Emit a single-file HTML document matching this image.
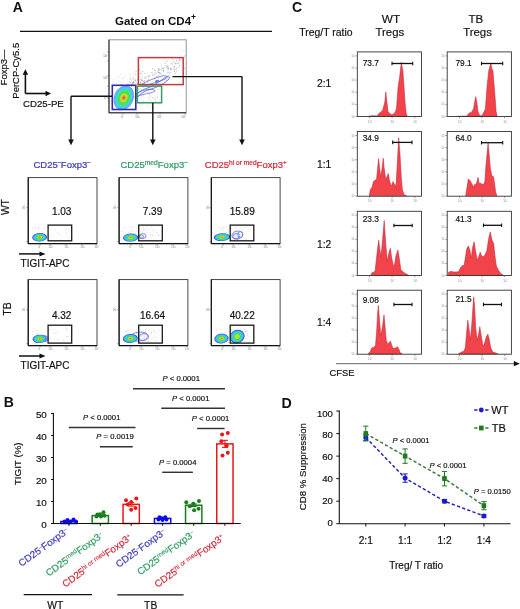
<!DOCTYPE html>
<html><head><meta charset="utf-8"><style>
html,body{margin:0;padding:0;background:#fff;}
svg{display:block;}
text{font-family:"Liberation Sans", sans-serif;}
svg{will-change:transform;}
</style></head><body>
<svg width="520" height="609" viewBox="0 0 520 609" font-family="Liberation Sans, sans-serif">
<rect width="520" height="609" fill="#fff"/>
<text x="12.8" y="12.3" font-size="14" fill="#111" text-anchor="start" font-weight="bold" >A</text>
<text x="115" y="24.6" font-size="11.5" font-weight="bold" fill="#111">Gated on CD4<tspan font-size="8.5" dy="-4.5">+</tspan></text>
<line x1="20" y1="31.3" x2="272" y2="31.3" stroke="#111" stroke-width="1.3" />
<text transform="translate(6.8,85.4) rotate(-90)" font-size="9.5" fill="#111" stroke="#111" stroke-width="0.18">Foxp3—</text>
<text transform="translate(19.2,98.7) rotate(-90)" font-size="9.5" fill="#111" stroke="#111" stroke-width="0.18">PerCP-Cy5.5</text>
<line x1="25.4" y1="93.5" x2="25.4" y2="74" stroke="#111" stroke-width="1.6" />
<path d="M22.65,74.8 L28.15,74.8 L25.4,69.3 Z" fill="#111"/>
<line x1="25.4" y1="93.5" x2="46" y2="93.5" stroke="#111" stroke-width="1.6" />
<path d="M45.5,90.75 L45.5,96.25 L51,93.5 Z" fill="#111"/>
<text x="22.9" y="107.1" font-size="9.7" fill="#111" text-anchor="start" font-weight="normal" stroke="#111" stroke-width="0.18" >CD25-PE</text>
<circle cx="147.9" cy="82.2" r="0.5" fill="#a09098" opacity="0.85"/>
<circle cx="129.7" cy="81.4" r="0.5" fill="#a09098" opacity="0.85"/>
<circle cx="130.5" cy="82.7" r="0.5" fill="#a09098" opacity="0.85"/>
<circle cx="152.8" cy="75.3" r="0.5" fill="#a09098" opacity="0.85"/>
<circle cx="151.9" cy="72.6" r="0.5" fill="#a09098" opacity="0.85"/>
<circle cx="136.0" cy="71.2" r="0.5" fill="#a09098" opacity="0.85"/>
<circle cx="154.3" cy="78.7" r="0.5" fill="#a09098" opacity="0.85"/>
<circle cx="131.9" cy="80.1" r="0.5" fill="#a09098" opacity="0.85"/>
<circle cx="137.5" cy="83.4" r="0.5" fill="#a09098" opacity="0.85"/>
<circle cx="174.3" cy="71.4" r="0.5" fill="#a09098" opacity="0.85"/>
<circle cx="160.9" cy="74.0" r="0.5" fill="#a09098" opacity="0.85"/>
<circle cx="133.0" cy="83.7" r="0.5" fill="#a09098" opacity="0.85"/>
<circle cx="163.5" cy="70.7" r="0.5" fill="#a09098" opacity="0.85"/>
<circle cx="158.2" cy="72.2" r="0.5" fill="#a09098" opacity="0.85"/>
<circle cx="171.1" cy="63.3" r="0.5" fill="#a09098" opacity="0.85"/>
<circle cx="154.6" cy="69.9" r="0.5" fill="#a09098" opacity="0.85"/>
<circle cx="166.5" cy="80.2" r="0.5" fill="#a09098" opacity="0.85"/>
<circle cx="130.8" cy="85.1" r="0.5" fill="#a09098" opacity="0.85"/>
<circle cx="135.7" cy="80.7" r="0.5" fill="#a09098" opacity="0.85"/>
<circle cx="165.1" cy="63.5" r="0.5" fill="#a09098" opacity="0.85"/>
<circle cx="174.6" cy="71.1" r="0.5" fill="#a09098" opacity="0.85"/>
<circle cx="158.3" cy="68.5" r="0.5" fill="#a09098" opacity="0.85"/>
<circle cx="176.9" cy="63.8" r="0.5" fill="#a09098" opacity="0.85"/>
<circle cx="168.1" cy="72.0" r="0.5" fill="#a09098" opacity="0.85"/>
<circle cx="168.2" cy="69.4" r="0.5" fill="#a09098" opacity="0.85"/>
<circle cx="140.9" cy="82.1" r="0.5" fill="#a09098" opacity="0.85"/>
<circle cx="127.8" cy="84.2" r="0.5" fill="#a09098" opacity="0.85"/>
<circle cx="138.4" cy="84.2" r="0.5" fill="#a09098" opacity="0.85"/>
<circle cx="135.2" cy="85.6" r="0.5" fill="#a09098" opacity="0.85"/>
<circle cx="178.3" cy="67.2" r="0.5" fill="#a09098" opacity="0.85"/>
<circle cx="161.7" cy="66.3" r="0.5" fill="#a09098" opacity="0.85"/>
<circle cx="175.1" cy="69.6" r="0.5" fill="#a09098" opacity="0.85"/>
<circle cx="152.4" cy="68.6" r="0.5" fill="#a09098" opacity="0.85"/>
<circle cx="137.1" cy="83.6" r="0.5" fill="#a09098" opacity="0.85"/>
<circle cx="137.5" cy="79.4" r="0.5" fill="#a09098" opacity="0.85"/>
<circle cx="145.1" cy="78.3" r="0.5" fill="#a09098" opacity="0.85"/>
<circle cx="142.7" cy="71.4" r="0.5" fill="#a09098" opacity="0.85"/>
<circle cx="162.5" cy="68.2" r="0.5" fill="#a09098" opacity="0.85"/>
<circle cx="170.2" cy="72.3" r="0.5" fill="#a09098" opacity="0.85"/>
<circle cx="174.0" cy="61.1" r="0.5" fill="#a09098" opacity="0.85"/>
<circle cx="148.6" cy="76.6" r="0.5" fill="#a09098" opacity="0.85"/>
<circle cx="163.7" cy="70.7" r="0.5" fill="#a09098" opacity="0.85"/>
<circle cx="140.7" cy="82.9" r="0.5" fill="#a09098" opacity="0.85"/>
<circle cx="132.3" cy="82.8" r="0.5" fill="#a09098" opacity="0.85"/>
<circle cx="133.2" cy="82.5" r="0.5" fill="#a09098" opacity="0.85"/>
<circle cx="175.0" cy="63.1" r="0.5" fill="#a09098" opacity="0.85"/>
<circle cx="140.5" cy="82.0" r="0.5" fill="#a09098" opacity="0.85"/>
<circle cx="139.3" cy="69.8" r="0.5" fill="#a09098" opacity="0.85"/>
<circle cx="152.6" cy="73.9" r="0.5" fill="#a09098" opacity="0.85"/>
<circle cx="132.5" cy="84.7" r="0.5" fill="#a09098" opacity="0.85"/>
<circle cx="173.9" cy="66.6" r="0.5" fill="#a09098" opacity="0.85"/>
<circle cx="178.9" cy="62.6" r="0.5" fill="#a09098" opacity="0.85"/>
<circle cx="160.9" cy="73.0" r="0.5" fill="#a09098" opacity="0.85"/>
<circle cx="184.3" cy="57.2" r="0.5" fill="#a09098" opacity="0.85"/>
<circle cx="141.3" cy="80.3" r="0.5" fill="#a09098" opacity="0.85"/>
<circle cx="166.2" cy="65.4" r="0.5" fill="#a09098" opacity="0.85"/>
<circle cx="146.9" cy="84.9" r="0.5" fill="#a09098" opacity="0.85"/>
<circle cx="184.9" cy="55.8" r="0.5" fill="#a09098" opacity="0.85"/>
<circle cx="172.9" cy="62.8" r="0.5" fill="#a09098" opacity="0.85"/>
<circle cx="156.1" cy="73.5" r="0.5" fill="#a09098" opacity="0.85"/>
<circle cx="129.2" cy="86.8" r="0.5" fill="#a09098" opacity="0.85"/>
<circle cx="168.7" cy="67.4" r="0.5" fill="#a09098" opacity="0.85"/>
<circle cx="148.4" cy="79.2" r="0.5" fill="#a09098" opacity="0.85"/>
<circle cx="139.8" cy="85.7" r="0.5" fill="#a09098" opacity="0.85"/>
<circle cx="179.1" cy="59.9" r="0.5" fill="#a09098" opacity="0.85"/>
<circle cx="164.2" cy="67.8" r="0.5" fill="#a09098" opacity="0.85"/>
<circle cx="168.0" cy="65.2" r="0.5" fill="#a09098" opacity="0.85"/>
<circle cx="167.7" cy="67.9" r="0.5" fill="#a09098" opacity="0.85"/>
<circle cx="169.2" cy="73.7" r="0.5" fill="#a09098" opacity="0.85"/>
<circle cx="179.4" cy="65.4" r="0.5" fill="#a09098" opacity="0.85"/>
<circle cx="179.8" cy="60.5" r="0.5" fill="#a09098" opacity="0.85"/>
<circle cx="138.1" cy="89.1" r="0.5" fill="#a09098" opacity="0.85"/>
<circle cx="175.2" cy="73.0" r="0.5" fill="#a09098" opacity="0.85"/>
<circle cx="180.6" cy="58.9" r="0.5" fill="#a09098" opacity="0.85"/>
<circle cx="158.5" cy="72.5" r="0.5" fill="#a09098" opacity="0.85"/>
<circle cx="179.6" cy="58.2" r="0.5" fill="#a09098" opacity="0.85"/>
<circle cx="174.7" cy="67.1" r="0.5" fill="#a09098" opacity="0.85"/>
<circle cx="173.9" cy="69.2" r="0.5" fill="#a09098" opacity="0.85"/>
<circle cx="144.3" cy="83.5" r="0.5" fill="#a09098" opacity="0.85"/>
<circle cx="141.1" cy="79.5" r="0.5" fill="#a09098" opacity="0.85"/>
<circle cx="176.4" cy="67.9" r="0.5" fill="#a09098" opacity="0.85"/>
<circle cx="162.2" cy="68.5" r="0.5" fill="#a09098" opacity="0.85"/>
<circle cx="175.4" cy="63.8" r="0.5" fill="#a09098" opacity="0.85"/>
<circle cx="159.5" cy="73.1" r="0.5" fill="#a09098" opacity="0.85"/>
<circle cx="142.5" cy="80.2" r="0.5" fill="#a09098" opacity="0.85"/>
<circle cx="133.5" cy="81.4" r="0.5" fill="#a09098" opacity="0.85"/>
<circle cx="157.2" cy="76.6" r="0.5" fill="#a09098" opacity="0.85"/>
<circle cx="158.8" cy="69.7" r="0.5" fill="#a09098" opacity="0.85"/>
<circle cx="158.8" cy="75.3" r="0.5" fill="#a09098" opacity="0.85"/>
<circle cx="167.3" cy="66.7" r="0.5" fill="#a09098" opacity="0.85"/>
<circle cx="172.1" cy="64.7" r="0.5" fill="#a09098" opacity="0.85"/>
<circle cx="158.7" cy="70.3" r="0.5" fill="#a09098" opacity="0.85"/>
<circle cx="163.2" cy="70.4" r="0.5" fill="#a09098" opacity="0.85"/>
<circle cx="157.9" cy="71.0" r="0.5" fill="#a09098" opacity="0.85"/>
<circle cx="178.0" cy="63.5" r="0.5" fill="#a09098" opacity="0.85"/>
<circle cx="163.3" cy="68.7" r="0.5" fill="#a09098" opacity="0.85"/>
<circle cx="137.5" cy="84.3" r="0.5" fill="#a09098" opacity="0.85"/>
<circle cx="132.0" cy="84.2" r="0.5" fill="#a09098" opacity="0.85"/>
<circle cx="165.9" cy="59.9" r="0.5" fill="#a09098" opacity="0.85"/>
<circle cx="135.7" cy="74.1" r="0.5" fill="#a09098" opacity="0.85"/>
<circle cx="140.7" cy="72.9" r="0.5" fill="#a09098" opacity="0.85"/>
<circle cx="142.5" cy="77.8" r="0.5" fill="#a09098" opacity="0.85"/>
<circle cx="159.5" cy="72.7" r="0.5" fill="#a09098" opacity="0.85"/>
<circle cx="134.1" cy="82.7" r="0.5" fill="#a09098" opacity="0.85"/>
<circle cx="147.4" cy="80.3" r="0.5" fill="#a09098" opacity="0.85"/>
<circle cx="170.9" cy="68.8" r="0.5" fill="#a09098" opacity="0.85"/>
<circle cx="154.5" cy="74.8" r="0.5" fill="#a09098" opacity="0.85"/>
<circle cx="161.4" cy="70.1" r="0.5" fill="#a09098" opacity="0.85"/>
<circle cx="183.8" cy="50.7" r="0.5" fill="#a09098" opacity="0.85"/>
<circle cx="133.7" cy="83.0" r="0.5" fill="#a09098" opacity="0.85"/>
<circle cx="170.7" cy="69.2" r="0.5" fill="#a09098" opacity="0.85"/>
<circle cx="155.1" cy="70.3" r="0.5" fill="#a09098" opacity="0.85"/>
<circle cx="145.5" cy="86.5" r="0.5" fill="#a09098" opacity="0.85"/>
<circle cx="159.1" cy="69.6" r="0.5" fill="#a09098" opacity="0.85"/>
<circle cx="130.2" cy="78.4" r="0.5" fill="#a09098" opacity="0.85"/>
<circle cx="135.3" cy="80.0" r="0.5" fill="#a09098" opacity="0.85"/>
<circle cx="176.3" cy="70.8" r="0.5" fill="#a09098" opacity="0.85"/>
<circle cx="133.5" cy="78.8" r="0.5" fill="#a09098" opacity="0.85"/>
<circle cx="141.3" cy="73.2" r="0.5" fill="#a09098" opacity="0.85"/>
<circle cx="144.8" cy="82.1" r="0.5" fill="#a09098" opacity="0.85"/>
<circle cx="142.3" cy="80.4" r="0.5" fill="#a09098" opacity="0.85"/>
<circle cx="131.4" cy="86.6" r="0.5" fill="#a09098" opacity="0.85"/>
<circle cx="144.9" cy="73.6" r="0.5" fill="#a09098" opacity="0.85"/>
<circle cx="156.5" cy="76.7" r="0.5" fill="#a09098" opacity="0.85"/>
<circle cx="129.0" cy="84.4" r="0.5" fill="#a09098" opacity="0.85"/>
<circle cx="166.8" cy="67.0" r="0.5" fill="#a09098" opacity="0.85"/>
<circle cx="155.2" cy="72.7" r="0.5" fill="#a09098" opacity="0.85"/>
<circle cx="170.4" cy="68.2" r="0.5" fill="#a09098" opacity="0.85"/>
<circle cx="171.6" cy="69.0" r="0.5" fill="#a09098" opacity="0.85"/>
<circle cx="168.1" cy="68.4" r="0.5" fill="#a09098" opacity="0.85"/>
<circle cx="172.8" cy="59.5" r="0.5" fill="#a09098" opacity="0.85"/>
<circle cx="149.8" cy="76.3" r="0.5" fill="#a09098" opacity="0.85"/>
<circle cx="138.8" cy="84.3" r="0.5" fill="#a09098" opacity="0.85"/>
<circle cx="142.6" cy="80.0" r="0.5" fill="#a09098" opacity="0.85"/>
<circle cx="176.8" cy="60.6" r="0.5" fill="#a09098" opacity="0.85"/>
<circle cx="143.6" cy="81.5" r="0.5" fill="#a09098" opacity="0.85"/>
<circle cx="154.8" cy="78.0" r="0.5" fill="#a09098" opacity="0.85"/>
<circle cx="149.0" cy="75.3" r="0.5" fill="#a09098" opacity="0.85"/>
<circle cx="158.3" cy="83.6" r="0.5" fill="#a09098" opacity="0.85"/>
<circle cx="145.0" cy="77.4" r="0.5" fill="#a09098" opacity="0.85"/>
<circle cx="146.1" cy="76.4" r="0.5" fill="#a09098" opacity="0.85"/>
<circle cx="138.8" cy="79.6" r="0.5" fill="#a09098" opacity="0.85"/>
<circle cx="144.7" cy="80.6" r="0.5" fill="#a09098" opacity="0.85"/>
<circle cx="132.4" cy="83.6" r="0.5" fill="#a09098" opacity="0.85"/>
<circle cx="138.2" cy="76.0" r="0.5" fill="#a09098" opacity="0.85"/>
<circle cx="167.1" cy="61.5" r="0.5" fill="#a09098" opacity="0.85"/>
<circle cx="174.6" cy="67.2" r="0.5" fill="#a09098" opacity="0.85"/>
<circle cx="184.5" cy="68.2" r="0.5" fill="#a09098" opacity="0.85"/>
<circle cx="167.9" cy="72.2" r="0.5" fill="#a09098" opacity="0.85"/>
<circle cx="157.7" cy="96.4" r="0.45" fill="#a0a0b0" opacity="0.8"/>
<circle cx="154.4" cy="99.2" r="0.45" fill="#a0a0b0" opacity="0.8"/>
<circle cx="141.9" cy="94.9" r="0.45" fill="#a0a0b0" opacity="0.8"/>
<circle cx="149.6" cy="99.5" r="0.45" fill="#a0a0b0" opacity="0.8"/>
<circle cx="155.9" cy="99.4" r="0.45" fill="#a0a0b0" opacity="0.8"/>
<circle cx="151.3" cy="100.4" r="0.45" fill="#a0a0b0" opacity="0.8"/>
<circle cx="153.3" cy="97.4" r="0.45" fill="#a0a0b0" opacity="0.8"/>
<circle cx="143.8" cy="87.5" r="0.45" fill="#a0a0b0" opacity="0.8"/>
<circle cx="141.8" cy="92.4" r="0.45" fill="#a0a0b0" opacity="0.8"/>
<circle cx="141.2" cy="99.5" r="0.45" fill="#a0a0b0" opacity="0.8"/>
<circle cx="150.7" cy="96.4" r="0.45" fill="#a0a0b0" opacity="0.8"/>
<circle cx="152.2" cy="97.2" r="0.45" fill="#a0a0b0" opacity="0.8"/>
<circle cx="149.3" cy="87.0" r="0.45" fill="#a0a0b0" opacity="0.8"/>
<circle cx="155.8" cy="98.2" r="0.45" fill="#a0a0b0" opacity="0.8"/>
<circle cx="149.6" cy="95.0" r="0.45" fill="#a0a0b0" opacity="0.8"/>
<circle cx="152.8" cy="88.0" r="0.45" fill="#a0a0b0" opacity="0.8"/>
<circle cx="154.5" cy="90.8" r="0.45" fill="#a0a0b0" opacity="0.8"/>
<circle cx="140.6" cy="91.0" r="0.45" fill="#a0a0b0" opacity="0.8"/>
<circle cx="154.3" cy="90.1" r="0.45" fill="#a0a0b0" opacity="0.8"/>
<circle cx="154.5" cy="101.6" r="0.45" fill="#a0a0b0" opacity="0.8"/>
<circle cx="149.4" cy="92.7" r="0.45" fill="#a0a0b0" opacity="0.8"/>
<circle cx="149.1" cy="97.3" r="0.45" fill="#a0a0b0" opacity="0.8"/>
<circle cx="155.1" cy="96.3" r="0.45" fill="#a0a0b0" opacity="0.8"/>
<circle cx="152.5" cy="88.2" r="0.45" fill="#a0a0b0" opacity="0.8"/>
<circle cx="142.1" cy="90.8" r="0.45" fill="#a0a0b0" opacity="0.8"/>
<circle cx="154.6" cy="91.6" r="0.45" fill="#a0a0b0" opacity="0.8"/>
<circle cx="150.9" cy="87.2" r="0.45" fill="#a0a0b0" opacity="0.8"/>
<circle cx="140.3" cy="91.0" r="0.45" fill="#a0a0b0" opacity="0.8"/>
<circle cx="153.1" cy="97.4" r="0.45" fill="#a0a0b0" opacity="0.8"/>
<circle cx="153.2" cy="91.4" r="0.45" fill="#a0a0b0" opacity="0.8"/>
<circle cx="149.8" cy="94.0" r="0.45" fill="#a0a0b0" opacity="0.8"/>
<circle cx="148.8" cy="88.8" r="0.45" fill="#a0a0b0" opacity="0.8"/>
<circle cx="157.8" cy="90.0" r="0.45" fill="#a0a0b0" opacity="0.8"/>
<circle cx="159.5" cy="101.0" r="0.45" fill="#a0a0b0" opacity="0.8"/>
<circle cx="139.4" cy="93.9" r="0.45" fill="#a0a0b0" opacity="0.8"/>
<circle cx="156.2" cy="101.5" r="0.45" fill="#a0a0b0" opacity="0.8"/>
<circle cx="148.4" cy="91.0" r="0.45" fill="#a0a0b0" opacity="0.8"/>
<circle cx="143.4" cy="101.2" r="0.45" fill="#a0a0b0" opacity="0.8"/>
<circle cx="143.4" cy="95.7" r="0.45" fill="#a0a0b0" opacity="0.8"/>
<circle cx="142.0" cy="94.9" r="0.45" fill="#a0a0b0" opacity="0.8"/>
<circle cx="159.0" cy="89.0" r="0.45" fill="#a0a0b0" opacity="0.8"/>
<circle cx="156.2" cy="94.6" r="0.45" fill="#a0a0b0" opacity="0.8"/>
<circle cx="157.6" cy="97.6" r="0.45" fill="#a0a0b0" opacity="0.8"/>
<circle cx="143.9" cy="100.5" r="0.45" fill="#a0a0b0" opacity="0.8"/>
<circle cx="149.2" cy="87.4" r="0.45" fill="#a0a0b0" opacity="0.8"/>
<circle cx="114.1" cy="79.4" r="0.45" fill="#c0a8b0" opacity="0.8"/>
<circle cx="123.9" cy="77.3" r="0.45" fill="#c0a8b0" opacity="0.8"/>
<circle cx="117.1" cy="77.8" r="0.45" fill="#c0a8b0" opacity="0.8"/>
<circle cx="121.0" cy="83.2" r="0.45" fill="#c0a8b0" opacity="0.8"/>
<circle cx="114.0" cy="82.3" r="0.45" fill="#c0a8b0" opacity="0.8"/>
<circle cx="132.5" cy="75.3" r="0.45" fill="#c0a8b0" opacity="0.8"/>
<circle cx="134.4" cy="81.8" r="0.45" fill="#c0a8b0" opacity="0.8"/>
<circle cx="133.8" cy="77.2" r="0.45" fill="#c0a8b0" opacity="0.8"/>
<circle cx="122.2" cy="78.3" r="0.45" fill="#c0a8b0" opacity="0.8"/>
<circle cx="136.0" cy="80.5" r="0.45" fill="#c0a8b0" opacity="0.8"/>
<circle cx="121.9" cy="78.7" r="0.45" fill="#c0a8b0" opacity="0.8"/>
<circle cx="120.1" cy="74.5" r="0.45" fill="#c0a8b0" opacity="0.8"/>
<circle cx="116.2" cy="83.2" r="0.45" fill="#c0a8b0" opacity="0.8"/>
<circle cx="120.3" cy="84.3" r="0.45" fill="#c0a8b0" opacity="0.8"/>
<circle cx="119.5" cy="76.9" r="0.45" fill="#c0a8b0" opacity="0.8"/>
<circle cx="125.2" cy="76.1" r="0.45" fill="#c0a8b0" opacity="0.8"/>
<circle cx="122.2" cy="84.5" r="0.45" fill="#c0a8b0" opacity="0.8"/>
<circle cx="133.5" cy="82.9" r="0.45" fill="#c0a8b0" opacity="0.8"/>
<circle cx="127.9" cy="84.0" r="0.45" fill="#c0a8b0" opacity="0.8"/>
<circle cx="134.7" cy="80.0" r="0.45" fill="#c0a8b0" opacity="0.8"/>
<circle cx="129.8" cy="74.5" r="0.45" fill="#c0a8b0" opacity="0.8"/>
<circle cx="130.1" cy="79.0" r="0.45" fill="#c0a8b0" opacity="0.8"/>
<circle cx="154.1" cy="108.2" r="0.45" fill="#b0b0c0" opacity="0.8"/>
<circle cx="142.9" cy="103.4" r="0.45" fill="#b0b0c0" opacity="0.8"/>
<circle cx="158.2" cy="104.0" r="0.45" fill="#b0b0c0" opacity="0.8"/>
<circle cx="147.3" cy="105.7" r="0.45" fill="#b0b0c0" opacity="0.8"/>
<circle cx="143.1" cy="108.9" r="0.45" fill="#b0b0c0" opacity="0.8"/>
<circle cx="159.4" cy="105.1" r="0.45" fill="#b0b0c0" opacity="0.8"/>
<circle cx="151.7" cy="105.4" r="0.45" fill="#b0b0c0" opacity="0.8"/>
<circle cx="149.4" cy="106.2" r="0.45" fill="#b0b0c0" opacity="0.8"/>
<circle cx="140.0" cy="104.3" r="0.45" fill="#b0b0c0" opacity="0.8"/>
<circle cx="141.0" cy="110.2" r="0.45" fill="#b0b0c0" opacity="0.8"/>
<circle cx="147.9" cy="104.8" r="0.45" fill="#b0b0c0" opacity="0.8"/>
<circle cx="157.8" cy="111.0" r="0.45" fill="#b0b0c0" opacity="0.8"/>
<path d="M135,97 C138,92 142,90 150,87 C156,84 162,80 166,77 C169,75 171,77 168,80 C163,85 155,88 148,90 C143,92 139,95 136,99 Z" fill="#e4ecfc" fill-opacity="0.5" stroke="#4a5ad0" stroke-width="0.75"/>
<path d="M141,84.5 C147,81 155,78 162,76 C167,75 169,77 165,79 C159,82 150,84 143,86 Z" fill="none" stroke="#4a5ad0" stroke-width="0.7"/>
<ellipse cx="157" cy="81" rx="2.2" ry="1" fill="#6a7ae0" transform="rotate(-20,157,81)"/>
<path d="M136,94 C140,91 146,89 152,89.5 C157,90 155,92 150,93 C145,94 140,95 136,97 Z" fill="none" stroke="#4a5ad0" stroke-width="0.65"/>
<ellipse cx="123.8" cy="97.8" rx="12.60" ry="9.80" fill="#8890ec" transform="rotate(-66,123.8,97.8)"/>
<ellipse cx="123.8" cy="97.8" rx="11.72" ry="9.11" fill="#58b8f4" transform="rotate(-66,123.8,97.8)"/>
<ellipse cx="123.8" cy="97.8" rx="10.33" ry="8.04" fill="#40d2ec" transform="rotate(-66,123.8,97.8)"/>
<ellipse cx="123.8" cy="97.8" rx="8.95" ry="6.96" fill="#3ee0b4" transform="rotate(-66,123.8,97.8)"/>
<ellipse cx="123.8" cy="97.8" rx="7.56" ry="5.88" fill="#50e048" transform="rotate(-66,123.8,97.8)"/>
<ellipse cx="123.8" cy="97.8" rx="4.54" ry="3.53" fill="#bce438" transform="rotate(-66,123.8,97.8)"/>
<ellipse cx="123.8" cy="97.8" rx="2.90" ry="2.25" fill="#f0a830" transform="rotate(-66,123.8,97.8)"/>
<ellipse cx="123.8" cy="97.8" rx="1.51" ry="1.18" fill="#e85a28" transform="rotate(-66,123.8,97.8)"/>
<rect x="109" y="39.8" width="77.19999999999999" height="73.0" stroke="#888" stroke-width="0.9" fill="none" />
<line x1="109" y1="39.8" x2="109" y2="112.8" stroke="#222" stroke-width="1.0" />
<line x1="109" y1="112.8" x2="186.2" y2="112.8" stroke="#222" stroke-width="1.0" />
<line x1="107.2" y1="52" x2="109" y2="52" stroke="#555" stroke-width="0.6" />
<line x1="107.2" y1="61" x2="109" y2="61" stroke="#555" stroke-width="0.6" />
<line x1="107.2" y1="76" x2="109" y2="76" stroke="#555" stroke-width="0.6" />
<line x1="107.2" y1="86" x2="109" y2="86" stroke="#555" stroke-width="0.6" />
<line x1="107.2" y1="98" x2="109" y2="98" stroke="#555" stroke-width="0.6" />
<line x1="123" y1="112.8" x2="123" y2="114.6" stroke="#555" stroke-width="0.6" />
<line x1="137" y1="112.8" x2="137" y2="114.6" stroke="#555" stroke-width="0.6" />
<line x1="160" y1="112.8" x2="160" y2="114.6" stroke="#555" stroke-width="0.6" />
<line x1="185" y1="112.8" x2="185" y2="114.6" stroke="#555" stroke-width="0.6" />
<text x="121" y="117.5" font-size="3.6" fill="#777" text-anchor="start" font-weight="normal" >0</text>
<text x="135" y="117.5" font-size="3.6" fill="#777" text-anchor="start" font-weight="normal" >10³</text>
<text x="157" y="117.5" font-size="3.6" fill="#777" text-anchor="start" font-weight="normal" >10⁴</text>
<text x="181" y="117.5" font-size="3.6" fill="#777" text-anchor="start" font-weight="normal" >10⁵</text>
<text x="103" y="57" font-size="3.6" fill="#777" text-anchor="start" font-weight="normal" >10⁵</text>
<text x="103" y="79" font-size="3.6" fill="#777" text-anchor="start" font-weight="normal" >10⁴</text>
<text x="104" y="99" font-size="3.6" fill="#777" text-anchor="start" font-weight="normal" >0</text>
<rect x="138.4" y="57.6" width="44.8" height="27.0" stroke="#c83a3a" stroke-width="1.5" fill="none" />
<rect x="112.3" y="85.3" width="23.5" height="24.2" stroke="#2c2ca8" stroke-width="1.6" fill="none" />
<rect x="137.4" y="86.1" width="24.2" height="16.7" stroke="#3a9a66" stroke-width="1.5" fill="none" />
<line x1="112" y1="96.3" x2="71" y2="96.3" stroke="#111" stroke-width="1.4" />
<line x1="71" y1="96.3" x2="71" y2="140" stroke="#111" stroke-width="1.4" />
<path d="M68.2,139.6 L73.8,139.6 L71,145.2 Z" fill="#111"/>
<line x1="152.8" y1="102.8" x2="152.8" y2="140" stroke="#111" stroke-width="1.4" />
<path d="M150.0,139.6 L155.60000000000002,139.6 L152.8,145.2 Z" fill="#111"/>
<line x1="172.5" y1="76.6" x2="242" y2="76.6" stroke="#111" stroke-width="1.4" />
<line x1="242" y1="76.6" x2="242" y2="140" stroke="#111" stroke-width="1.4" />
<path d="M239.2,139.6 L244.8,139.6 L242,145.2 Z" fill="#111"/>
<text x="33.5" y="167.5" font-size="9.5" fill="#3c3cb4" stroke="#3c3cb4" stroke-width="0.22">CD25<tspan font-size="5.5" dy="-3.5">–</tspan><tspan dy="3.5">Foxp3</tspan><tspan font-size="6" dy="-3.5">–</tspan></text>
<text x="120.5" y="167.5" font-size="9.5" fill="#2f9a62" stroke="#2f9a62" stroke-width="0.22">CD25<tspan font-size="6.7" dy="-3">med</tspan><tspan dy="3">Foxp3</tspan><tspan font-size="6" dy="-3.5">–</tspan></text>
<text x="204.8" y="167.5" font-size="9.5" fill="#d02a3a" stroke="#d02a3a" stroke-width="0.22">CD25<tspan font-size="6.6" dy="-3">hi or med</tspan><tspan dy="3">Foxp3</tspan><tspan font-size="6.2" dy="-3.6">+</tspan></text>
<circle cx="39.3" cy="227.4" r="0.45" fill="#b0a0b0" opacity="0.8"/>
<circle cx="34.7" cy="227.1" r="0.45" fill="#b0a0b0" opacity="0.8"/>
<circle cx="37.4" cy="227.1" r="0.45" fill="#b0a0b0" opacity="0.8"/>
<circle cx="35.5" cy="228.2" r="0.45" fill="#b0a0b0" opacity="0.8"/>
<circle cx="41.5" cy="231.9" r="0.45" fill="#b0a0b0" opacity="0.8"/>
<circle cx="44.7" cy="229.1" r="0.45" fill="#b0a0b0" opacity="0.8"/>
<circle cx="38.6" cy="229.7" r="0.45" fill="#b0a0b0" opacity="0.8"/>
<circle cx="38.0" cy="228.6" r="0.45" fill="#b0a0b0" opacity="0.8"/>
<circle cx="32.3" cy="228.3" r="0.45" fill="#b0a0b0" opacity="0.8"/>
<circle cx="48.6" cy="227.4" r="0.45" fill="#b0a0b0" opacity="0.8"/>
<circle cx="59.3" cy="234.8" r="0.45" fill="#9a9aaa" opacity="0.8"/>
<circle cx="65.7" cy="229.4" r="0.45" fill="#9a9aaa" opacity="0.8"/>
<circle cx="55.1" cy="229.8" r="0.45" fill="#9a9aaa" opacity="0.8"/>
<circle cx="57.4" cy="232.4" r="0.45" fill="#9a9aaa" opacity="0.8"/>
<circle cx="67.4" cy="237.6" r="0.45" fill="#9a9aaa" opacity="0.8"/>
<circle cx="65.9" cy="226.9" r="0.45" fill="#9a9aaa" opacity="0.8"/>
<circle cx="50.8" cy="235.8" r="0.45" fill="#9a9aaa" opacity="0.8"/>
<circle cx="66.3" cy="232.8" r="0.45" fill="#9a9aaa" opacity="0.8"/>
<ellipse cx="39.6" cy="237.3" rx="7.40" ry="4.20" fill="#2a48d0" transform="rotate(-3,39.6,237.3)"/>
<ellipse cx="39.6" cy="237.3" rx="6.66" ry="3.78" fill="#4aa8f4" transform="rotate(-3,39.6,237.3)"/>
<ellipse cx="39.6" cy="237.3" rx="5.62" ry="3.19" fill="#38cdec" transform="rotate(-3,39.6,237.3)"/>
<ellipse cx="39.6" cy="237.3" rx="4.59" ry="2.60" fill="#36dcb0" transform="rotate(-3,39.6,237.3)"/>
<ellipse cx="39.6" cy="237.3" rx="3.63" ry="2.06" fill="#4ade44" transform="rotate(-3,39.6,237.3)"/>
<ellipse cx="39.6" cy="237.3" rx="2.52" ry="1.43" fill="#b4e234" transform="rotate(-3,39.6,237.3)"/>
<ellipse cx="39.6" cy="237.3" rx="1.55" ry="0.88" fill="#f0b02c" transform="rotate(-3,39.6,237.3)"/>
<ellipse cx="39.6" cy="237.3" rx="0.81" ry="0.46" fill="#e85a28" transform="rotate(-3,39.6,237.3)"/>
<rect x="28.2" y="177.6" width="68.8" height="66" stroke="#333" stroke-width="0.9" fill="none" />
<line x1="28.2" y1="177.6" x2="28.2" y2="243.6" stroke="#111" stroke-width="1.1" />
<line x1="28.2" y1="243.6" x2="97.0" y2="243.6" stroke="#111" stroke-width="1.1" />
<line x1="26.4" y1="207.6" x2="28.2" y2="207.6" stroke="#555" stroke-width="0.6" />
<line x1="26.4" y1="241.6" x2="28.2" y2="241.6" stroke="#555" stroke-width="0.6" />
<line x1="40.2" y1="243.6" x2="40.2" y2="245.4" stroke="#555" stroke-width="0.6" />
<line x1="50.2" y1="243.6" x2="50.2" y2="245.4" stroke="#555" stroke-width="0.6" />
<line x1="66.2" y1="243.6" x2="66.2" y2="245.4" stroke="#555" stroke-width="0.6" />
<line x1="82.2" y1="243.6" x2="82.2" y2="245.4" stroke="#555" stroke-width="0.6" />
<line x1="96.2" y1="243.6" x2="96.2" y2="245.4" stroke="#555" stroke-width="0.6" />
<text x="38.2" y="248.1" font-size="3.4" fill="#888" text-anchor="start" font-weight="normal" >0</text>
<text x="48.2" y="248.1" font-size="3.4" fill="#888" text-anchor="start" font-weight="normal" >10³</text>
<text x="64.2" y="248.1" font-size="3.4" fill="#888" text-anchor="start" font-weight="normal" >10³</text>
<text x="80.2" y="248.1" font-size="3.4" fill="#888" text-anchor="start" font-weight="normal" >10³</text>
<text x="94.2" y="248.1" font-size="3.4" fill="#888" text-anchor="start" font-weight="normal" >10³</text>
<text x="22.7" y="208.9" font-size="3.0" fill="#888" text-anchor="start" font-weight="normal" transform="rotate(-90,24.2,207.6)">10³</text>
<rect x="48.099999999999994" y="225.1" width="23.6" height="15.7" stroke="#1a1a1a" stroke-width="1.3" fill="none" />
<text x="61.7" y="215.2" font-size="10" fill="#111" text-anchor="middle" font-weight="normal" stroke="#111" stroke-width="0.18" >1.03</text>
<circle cx="132.7" cy="226.6" r="0.45" fill="#b0a0b0" opacity="0.8"/>
<circle cx="129.1" cy="232.2" r="0.45" fill="#b0a0b0" opacity="0.8"/>
<circle cx="137.0" cy="231.7" r="0.45" fill="#b0a0b0" opacity="0.8"/>
<circle cx="139.6" cy="228.1" r="0.45" fill="#b0a0b0" opacity="0.8"/>
<circle cx="124.1" cy="227.5" r="0.45" fill="#b0a0b0" opacity="0.8"/>
<circle cx="131.5" cy="230.7" r="0.45" fill="#b0a0b0" opacity="0.8"/>
<circle cx="139.0" cy="230.9" r="0.45" fill="#b0a0b0" opacity="0.8"/>
<circle cx="133.8" cy="231.2" r="0.45" fill="#b0a0b0" opacity="0.8"/>
<circle cx="130.3" cy="229.9" r="0.45" fill="#b0a0b0" opacity="0.8"/>
<circle cx="122.8" cy="231.3" r="0.45" fill="#b0a0b0" opacity="0.8"/>
<circle cx="145.3" cy="238.6" r="0.45" fill="#9a9aaa" opacity="0.8"/>
<circle cx="152.7" cy="230.5" r="0.45" fill="#9a9aaa" opacity="0.8"/>
<circle cx="143.4" cy="229.9" r="0.45" fill="#9a9aaa" opacity="0.8"/>
<circle cx="152.6" cy="235.7" r="0.45" fill="#9a9aaa" opacity="0.8"/>
<circle cx="143.1" cy="227.5" r="0.45" fill="#9a9aaa" opacity="0.8"/>
<circle cx="150.5" cy="234.2" r="0.45" fill="#9a9aaa" opacity="0.8"/>
<circle cx="148.1" cy="229.5" r="0.45" fill="#9a9aaa" opacity="0.8"/>
<circle cx="151.9" cy="226.7" r="0.45" fill="#9a9aaa" opacity="0.8"/>
<circle cx="146.5" cy="232.6" r="0.45" fill="#9a9aaa" opacity="0.8"/>
<circle cx="158.4" cy="235.0" r="0.45" fill="#9a9aaa" opacity="0.8"/>
<circle cx="157.0" cy="232.8" r="0.45" fill="#9a9aaa" opacity="0.8"/>
<circle cx="145.3" cy="229.8" r="0.45" fill="#9a9aaa" opacity="0.8"/>
<circle cx="158.4" cy="235.8" r="0.45" fill="#9a9aaa" opacity="0.8"/>
<circle cx="146.6" cy="226.9" r="0.45" fill="#9a9aaa" opacity="0.8"/>
<ellipse cx="142.6" cy="236.1" rx="3.5" ry="2.4" fill="#dfe8fb" fill-opacity="0.35" stroke="#5866d8" stroke-width="0.7" transform="rotate(-10,142.6,236.1)"/>
<ellipse cx="141.6" cy="236.6" rx="2" ry="1.4" fill="#dfe8fb" fill-opacity="0.35" stroke="#5866d8" stroke-width="0.7" transform="rotate(0,141.6,236.6)"/>
<ellipse cx="130.6" cy="237.6" rx="7.60" ry="4.00" fill="#2a48d0" transform="rotate(-3,130.6,237.6)"/>
<ellipse cx="130.6" cy="237.6" rx="6.84" ry="3.60" fill="#4aa8f4" transform="rotate(-3,130.6,237.6)"/>
<ellipse cx="130.6" cy="237.6" rx="5.78" ry="3.04" fill="#38cdec" transform="rotate(-3,130.6,237.6)"/>
<ellipse cx="130.6" cy="237.6" rx="4.71" ry="2.48" fill="#36dcb0" transform="rotate(-3,130.6,237.6)"/>
<ellipse cx="130.6" cy="237.6" rx="3.72" ry="1.96" fill="#4ade44" transform="rotate(-3,130.6,237.6)"/>
<ellipse cx="130.6" cy="237.6" rx="2.58" ry="1.36" fill="#b4e234" transform="rotate(-3,130.6,237.6)"/>
<ellipse cx="130.6" cy="237.6" rx="1.60" ry="0.84" fill="#f0b02c" transform="rotate(-3,130.6,237.6)"/>
<ellipse cx="130.6" cy="237.6" rx="0.84" ry="0.44" fill="#e85a28" transform="rotate(-3,130.6,237.6)"/>
<rect x="119.1" y="177.6" width="68.8" height="66" stroke="#333" stroke-width="0.9" fill="none" />
<line x1="119.1" y1="177.6" x2="119.1" y2="243.6" stroke="#111" stroke-width="1.1" />
<line x1="119.1" y1="243.6" x2="187.89999999999998" y2="243.6" stroke="#111" stroke-width="1.1" />
<line x1="117.3" y1="207.6" x2="119.1" y2="207.6" stroke="#555" stroke-width="0.6" />
<line x1="117.3" y1="241.6" x2="119.1" y2="241.6" stroke="#555" stroke-width="0.6" />
<line x1="131.1" y1="243.6" x2="131.1" y2="245.4" stroke="#555" stroke-width="0.6" />
<line x1="141.1" y1="243.6" x2="141.1" y2="245.4" stroke="#555" stroke-width="0.6" />
<line x1="157.1" y1="243.6" x2="157.1" y2="245.4" stroke="#555" stroke-width="0.6" />
<line x1="173.1" y1="243.6" x2="173.1" y2="245.4" stroke="#555" stroke-width="0.6" />
<line x1="187.1" y1="243.6" x2="187.1" y2="245.4" stroke="#555" stroke-width="0.6" />
<text x="129.1" y="248.1" font-size="3.4" fill="#888" text-anchor="start" font-weight="normal" >0</text>
<text x="139.1" y="248.1" font-size="3.4" fill="#888" text-anchor="start" font-weight="normal" >10³</text>
<text x="155.1" y="248.1" font-size="3.4" fill="#888" text-anchor="start" font-weight="normal" >10³</text>
<text x="171.1" y="248.1" font-size="3.4" fill="#888" text-anchor="start" font-weight="normal" >10³</text>
<text x="185.1" y="248.1" font-size="3.4" fill="#888" text-anchor="start" font-weight="normal" >10³</text>
<text x="113.6" y="208.9" font-size="3.0" fill="#888" text-anchor="start" font-weight="normal" transform="rotate(-90,115.1,207.6)">10³</text>
<rect x="138.7" y="225.1" width="23.6" height="15.7" stroke="#1a1a1a" stroke-width="1.3" fill="none" />
<text x="152.5" y="215.2" font-size="10" fill="#111" text-anchor="middle" font-weight="normal" stroke="#111" stroke-width="0.18" >7.39</text>
<circle cx="223.3" cy="230.6" r="0.45" fill="#b0a0b0" opacity="0.8"/>
<circle cx="221.9" cy="228.1" r="0.45" fill="#b0a0b0" opacity="0.8"/>
<circle cx="226.3" cy="232.2" r="0.45" fill="#b0a0b0" opacity="0.8"/>
<circle cx="218.4" cy="226.8" r="0.45" fill="#b0a0b0" opacity="0.8"/>
<circle cx="220.4" cy="229.1" r="0.45" fill="#b0a0b0" opacity="0.8"/>
<circle cx="226.6" cy="227.8" r="0.45" fill="#b0a0b0" opacity="0.8"/>
<circle cx="228.6" cy="231.0" r="0.45" fill="#b0a0b0" opacity="0.8"/>
<circle cx="223.4" cy="227.8" r="0.45" fill="#b0a0b0" opacity="0.8"/>
<circle cx="231.8" cy="228.5" r="0.45" fill="#b0a0b0" opacity="0.8"/>
<circle cx="229.1" cy="228.0" r="0.45" fill="#b0a0b0" opacity="0.8"/>
<circle cx="237.3" cy="236.5" r="0.45" fill="#9a9aaa" opacity="0.8"/>
<circle cx="238.6" cy="239.0" r="0.45" fill="#9a9aaa" opacity="0.8"/>
<circle cx="242.2" cy="229.0" r="0.45" fill="#9a9aaa" opacity="0.8"/>
<circle cx="237.3" cy="232.0" r="0.45" fill="#9a9aaa" opacity="0.8"/>
<circle cx="245.3" cy="238.9" r="0.45" fill="#9a9aaa" opacity="0.8"/>
<circle cx="235.9" cy="231.7" r="0.45" fill="#9a9aaa" opacity="0.8"/>
<circle cx="237.1" cy="239.3" r="0.45" fill="#9a9aaa" opacity="0.8"/>
<circle cx="235.9" cy="227.3" r="0.45" fill="#9a9aaa" opacity="0.8"/>
<circle cx="234.4" cy="231.7" r="0.45" fill="#9a9aaa" opacity="0.8"/>
<circle cx="249.5" cy="238.1" r="0.45" fill="#9a9aaa" opacity="0.8"/>
<circle cx="246.5" cy="239.6" r="0.45" fill="#9a9aaa" opacity="0.8"/>
<circle cx="250.1" cy="230.9" r="0.45" fill="#9a9aaa" opacity="0.8"/>
<circle cx="236.6" cy="238.8" r="0.45" fill="#9a9aaa" opacity="0.8"/>
<circle cx="246.7" cy="227.0" r="0.45" fill="#9a9aaa" opacity="0.8"/>
<ellipse cx="237.3" cy="235.1" rx="5.5" ry="4" fill="#dfe8fb" fill-opacity="0.35" stroke="#5866d8" stroke-width="0.7" transform="rotate(-15,237.3,235.1)"/>
<ellipse cx="236.3" cy="236.1" rx="3.5" ry="2.5" fill="#dfe8fb" fill-opacity="0.35" stroke="#5866d8" stroke-width="0.7" transform="rotate(-10,236.3,236.1)"/>
<ellipse cx="240.3" cy="234.6" rx="2.5" ry="3" fill="#dfe8fb" fill-opacity="0.35" stroke="#5866d8" stroke-width="0.7" transform="rotate(0,240.3,234.6)"/>
<ellipse cx="222.0" cy="237.1" rx="8.20" ry="3.90" fill="#2a48d0" transform="rotate(-3,222.0,237.1)"/>
<ellipse cx="222.0" cy="237.1" rx="7.38" ry="3.51" fill="#4aa8f4" transform="rotate(-3,222.0,237.1)"/>
<ellipse cx="222.0" cy="237.1" rx="6.23" ry="2.96" fill="#38cdec" transform="rotate(-3,222.0,237.1)"/>
<ellipse cx="222.0" cy="237.1" rx="5.08" ry="2.42" fill="#36dcb0" transform="rotate(-3,222.0,237.1)"/>
<ellipse cx="222.0" cy="237.1" rx="4.02" ry="1.91" fill="#4ade44" transform="rotate(-3,222.0,237.1)"/>
<ellipse cx="222.0" cy="237.1" rx="2.79" ry="1.33" fill="#b4e234" transform="rotate(-3,222.0,237.1)"/>
<ellipse cx="222.0" cy="237.1" rx="1.72" ry="0.82" fill="#f0b02c" transform="rotate(-3,222.0,237.1)"/>
<ellipse cx="222.0" cy="237.1" rx="0.90" ry="0.43" fill="#e85a28" transform="rotate(-3,222.0,237.1)"/>
<rect x="211.3" y="177.6" width="68.8" height="66" stroke="#333" stroke-width="0.9" fill="none" />
<line x1="211.3" y1="177.6" x2="211.3" y2="243.6" stroke="#111" stroke-width="1.1" />
<line x1="211.3" y1="243.6" x2="280.1" y2="243.6" stroke="#111" stroke-width="1.1" />
<line x1="209.5" y1="207.6" x2="211.3" y2="207.6" stroke="#555" stroke-width="0.6" />
<line x1="209.5" y1="241.6" x2="211.3" y2="241.6" stroke="#555" stroke-width="0.6" />
<line x1="223.3" y1="243.6" x2="223.3" y2="245.4" stroke="#555" stroke-width="0.6" />
<line x1="233.3" y1="243.6" x2="233.3" y2="245.4" stroke="#555" stroke-width="0.6" />
<line x1="249.3" y1="243.6" x2="249.3" y2="245.4" stroke="#555" stroke-width="0.6" />
<line x1="265.3" y1="243.6" x2="265.3" y2="245.4" stroke="#555" stroke-width="0.6" />
<line x1="279.3" y1="243.6" x2="279.3" y2="245.4" stroke="#555" stroke-width="0.6" />
<text x="221.3" y="248.1" font-size="3.4" fill="#888" text-anchor="start" font-weight="normal" >0</text>
<text x="231.3" y="248.1" font-size="3.4" fill="#888" text-anchor="start" font-weight="normal" >10³</text>
<text x="247.3" y="248.1" font-size="3.4" fill="#888" text-anchor="start" font-weight="normal" >10³</text>
<text x="263.3" y="248.1" font-size="3.4" fill="#888" text-anchor="start" font-weight="normal" >10³</text>
<text x="277.3" y="248.1" font-size="3.4" fill="#888" text-anchor="start" font-weight="normal" >10³</text>
<text x="205.8" y="208.9" font-size="3.0" fill="#888" text-anchor="start" font-weight="normal" transform="rotate(-90,207.3,207.6)">10³</text>
<rect x="230.20000000000002" y="225.1" width="23.6" height="15.7" stroke="#1a1a1a" stroke-width="1.3" fill="none" />
<text x="242.20000000000002" y="215.2" font-size="10" fill="#111" text-anchor="middle" font-weight="normal" stroke="#111" stroke-width="0.18" >15.89</text>
<circle cx="43.2" cy="330.9" r="0.45" fill="#b0a0b0" opacity="0.8"/>
<circle cx="37.9" cy="330.6" r="0.45" fill="#b0a0b0" opacity="0.8"/>
<circle cx="34.2" cy="328.6" r="0.45" fill="#b0a0b0" opacity="0.8"/>
<circle cx="36.2" cy="330.7" r="0.45" fill="#b0a0b0" opacity="0.8"/>
<circle cx="48.4" cy="329.3" r="0.45" fill="#b0a0b0" opacity="0.8"/>
<circle cx="48.6" cy="329.8" r="0.45" fill="#b0a0b0" opacity="0.8"/>
<circle cx="37.6" cy="333.5" r="0.45" fill="#b0a0b0" opacity="0.8"/>
<circle cx="46.0" cy="331.2" r="0.45" fill="#b0a0b0" opacity="0.8"/>
<circle cx="32.1" cy="331.4" r="0.45" fill="#b0a0b0" opacity="0.8"/>
<circle cx="37.9" cy="334.1" r="0.45" fill="#b0a0b0" opacity="0.8"/>
<circle cx="53.7" cy="333.3" r="0.45" fill="#9a9aaa" opacity="0.8"/>
<circle cx="66.3" cy="329.0" r="0.45" fill="#9a9aaa" opacity="0.8"/>
<circle cx="57.6" cy="339.2" r="0.45" fill="#9a9aaa" opacity="0.8"/>
<circle cx="64.0" cy="329.1" r="0.45" fill="#9a9aaa" opacity="0.8"/>
<circle cx="50.8" cy="329.4" r="0.45" fill="#9a9aaa" opacity="0.8"/>
<circle cx="66.8" cy="331.9" r="0.45" fill="#9a9aaa" opacity="0.8"/>
<circle cx="63.7" cy="340.3" r="0.45" fill="#9a9aaa" opacity="0.8"/>
<circle cx="56.3" cy="332.1" r="0.45" fill="#9a9aaa" opacity="0.8"/>
<circle cx="67.4" cy="336.6" r="0.45" fill="#9a9aaa" opacity="0.8"/>
<circle cx="54.9" cy="337.9" r="0.45" fill="#9a9aaa" opacity="0.8"/>
<circle cx="55.9" cy="332.2" r="0.45" fill="#9a9aaa" opacity="0.8"/>
<circle cx="50.3" cy="338.4" r="0.45" fill="#9a9aaa" opacity="0.8"/>
<circle cx="66.7" cy="336.8" r="0.45" fill="#9a9aaa" opacity="0.8"/>
<circle cx="67.2" cy="328.9" r="0.45" fill="#9a9aaa" opacity="0.8"/>
<ellipse cx="44.2" cy="338.6" rx="4" ry="3" fill="#dfe8fb" fill-opacity="0.35" stroke="#5866d8" stroke-width="0.7" transform="rotate(0,44.2,338.6)"/>
<ellipse cx="39.7" cy="338.90000000000003" rx="7.20" ry="4.20" fill="#2a48d0" transform="rotate(-3,39.7,338.90000000000003)"/>
<ellipse cx="39.7" cy="338.90000000000003" rx="6.48" ry="3.78" fill="#4aa8f4" transform="rotate(-3,39.7,338.90000000000003)"/>
<ellipse cx="39.7" cy="338.90000000000003" rx="5.47" ry="3.19" fill="#38cdec" transform="rotate(-3,39.7,338.90000000000003)"/>
<ellipse cx="39.7" cy="338.90000000000003" rx="4.46" ry="2.60" fill="#36dcb0" transform="rotate(-3,39.7,338.90000000000003)"/>
<ellipse cx="39.7" cy="338.90000000000003" rx="3.53" ry="2.06" fill="#4ade44" transform="rotate(-3,39.7,338.90000000000003)"/>
<ellipse cx="39.7" cy="338.90000000000003" rx="2.45" ry="1.43" fill="#b4e234" transform="rotate(-3,39.7,338.90000000000003)"/>
<ellipse cx="39.7" cy="338.90000000000003" rx="1.51" ry="0.88" fill="#f0b02c" transform="rotate(-3,39.7,338.90000000000003)"/>
<ellipse cx="39.7" cy="338.90000000000003" rx="0.79" ry="0.46" fill="#e85a28" transform="rotate(-3,39.7,338.90000000000003)"/>
<rect x="28.2" y="279.6" width="68.8" height="66" stroke="#333" stroke-width="0.9" fill="none" />
<line x1="28.2" y1="279.6" x2="28.2" y2="345.6" stroke="#111" stroke-width="1.1" />
<line x1="28.2" y1="345.6" x2="97.0" y2="345.6" stroke="#111" stroke-width="1.1" />
<line x1="26.4" y1="309.6" x2="28.2" y2="309.6" stroke="#555" stroke-width="0.6" />
<line x1="26.4" y1="343.6" x2="28.2" y2="343.6" stroke="#555" stroke-width="0.6" />
<line x1="40.2" y1="345.6" x2="40.2" y2="347.40000000000003" stroke="#555" stroke-width="0.6" />
<line x1="50.2" y1="345.6" x2="50.2" y2="347.40000000000003" stroke="#555" stroke-width="0.6" />
<line x1="66.2" y1="345.6" x2="66.2" y2="347.40000000000003" stroke="#555" stroke-width="0.6" />
<line x1="82.2" y1="345.6" x2="82.2" y2="347.40000000000003" stroke="#555" stroke-width="0.6" />
<line x1="96.2" y1="345.6" x2="96.2" y2="347.40000000000003" stroke="#555" stroke-width="0.6" />
<text x="38.2" y="350.1" font-size="3.4" fill="#888" text-anchor="start" font-weight="normal" >0</text>
<text x="48.2" y="350.1" font-size="3.4" fill="#888" text-anchor="start" font-weight="normal" >10³</text>
<text x="64.2" y="350.1" font-size="3.4" fill="#888" text-anchor="start" font-weight="normal" >10³</text>
<text x="80.2" y="350.1" font-size="3.4" fill="#888" text-anchor="start" font-weight="normal" >10³</text>
<text x="94.2" y="350.1" font-size="3.4" fill="#888" text-anchor="start" font-weight="normal" >10³</text>
<text x="22.7" y="310.90000000000003" font-size="3.0" fill="#888" text-anchor="start" font-weight="normal" transform="rotate(-90,24.2,309.6)">10³</text>
<rect x="48.099999999999994" y="325.20000000000005" width="23.6" height="17.9" stroke="#1a1a1a" stroke-width="1.3" fill="none" />
<text x="61.7" y="318.6" font-size="10" fill="#111" text-anchor="middle" font-weight="normal" stroke="#111" stroke-width="0.18" >4.32</text>
<circle cx="126.3" cy="331.5" r="0.45" fill="#b0a0b0" opacity="0.8"/>
<circle cx="139.3" cy="334.3" r="0.45" fill="#b0a0b0" opacity="0.8"/>
<circle cx="129.1" cy="330.1" r="0.45" fill="#b0a0b0" opacity="0.8"/>
<circle cx="129.8" cy="331.6" r="0.45" fill="#b0a0b0" opacity="0.8"/>
<circle cx="138.8" cy="329.7" r="0.45" fill="#b0a0b0" opacity="0.8"/>
<circle cx="136.5" cy="333.0" r="0.45" fill="#b0a0b0" opacity="0.8"/>
<circle cx="136.9" cy="333.2" r="0.45" fill="#b0a0b0" opacity="0.8"/>
<circle cx="133.0" cy="330.6" r="0.45" fill="#b0a0b0" opacity="0.8"/>
<circle cx="127.9" cy="330.8" r="0.45" fill="#b0a0b0" opacity="0.8"/>
<circle cx="136.2" cy="329.1" r="0.45" fill="#b0a0b0" opacity="0.8"/>
<circle cx="144.7" cy="338.4" r="0.45" fill="#9a9aaa" opacity="0.8"/>
<circle cx="145.6" cy="329.4" r="0.45" fill="#9a9aaa" opacity="0.8"/>
<circle cx="141.7" cy="335.8" r="0.45" fill="#9a9aaa" opacity="0.8"/>
<circle cx="147.0" cy="341.3" r="0.45" fill="#9a9aaa" opacity="0.8"/>
<circle cx="157.0" cy="341.4" r="0.45" fill="#9a9aaa" opacity="0.8"/>
<circle cx="145.9" cy="329.7" r="0.45" fill="#9a9aaa" opacity="0.8"/>
<circle cx="142.8" cy="335.1" r="0.45" fill="#9a9aaa" opacity="0.8"/>
<circle cx="153.9" cy="334.4" r="0.45" fill="#9a9aaa" opacity="0.8"/>
<circle cx="145.3" cy="334.0" r="0.45" fill="#9a9aaa" opacity="0.8"/>
<circle cx="152.3" cy="337.4" r="0.45" fill="#9a9aaa" opacity="0.8"/>
<circle cx="154.6" cy="339.6" r="0.45" fill="#9a9aaa" opacity="0.8"/>
<circle cx="153.1" cy="330.2" r="0.45" fill="#9a9aaa" opacity="0.8"/>
<circle cx="156.2" cy="332.4" r="0.45" fill="#9a9aaa" opacity="0.8"/>
<circle cx="151.3" cy="333.4" r="0.45" fill="#9a9aaa" opacity="0.8"/>
<circle cx="154.4" cy="331.2" r="0.45" fill="#9a9aaa" opacity="0.8"/>
<circle cx="145.6" cy="331.8" r="0.45" fill="#9a9aaa" opacity="0.8"/>
<circle cx="143.9" cy="340.1" r="0.45" fill="#9a9aaa" opacity="0.8"/>
<circle cx="151.5" cy="332.8" r="0.45" fill="#9a9aaa" opacity="0.8"/>
<circle cx="148.2" cy="341.5" r="0.45" fill="#9a9aaa" opacity="0.8"/>
<circle cx="150.2" cy="331.6" r="0.45" fill="#9a9aaa" opacity="0.8"/>
<circle cx="155.7" cy="337.1" r="0.45" fill="#9a9aaa" opacity="0.8"/>
<circle cx="158.9" cy="329.9" r="0.45" fill="#9a9aaa" opacity="0.8"/>
<ellipse cx="139.1" cy="336.6" rx="9" ry="4.5" fill="#dfe8fb" fill-opacity="0.35" stroke="#5866d8" stroke-width="0.7" transform="rotate(-5,139.1,336.6)"/>
<ellipse cx="143.6" cy="337.1" rx="5" ry="3.5" fill="#dfe8fb" fill-opacity="0.35" stroke="#5866d8" stroke-width="0.7" transform="rotate(-10,143.6,337.1)"/>
<ellipse cx="130.29999999999998" cy="338.5" rx="7.50" ry="4.40" fill="#2a48d0" transform="rotate(-3,130.29999999999998,338.5)"/>
<ellipse cx="130.29999999999998" cy="338.5" rx="6.75" ry="3.96" fill="#4aa8f4" transform="rotate(-3,130.29999999999998,338.5)"/>
<ellipse cx="130.29999999999998" cy="338.5" rx="5.70" ry="3.34" fill="#38cdec" transform="rotate(-3,130.29999999999998,338.5)"/>
<ellipse cx="130.29999999999998" cy="338.5" rx="4.65" ry="2.73" fill="#36dcb0" transform="rotate(-3,130.29999999999998,338.5)"/>
<ellipse cx="130.29999999999998" cy="338.5" rx="3.67" ry="2.16" fill="#4ade44" transform="rotate(-3,130.29999999999998,338.5)"/>
<ellipse cx="130.29999999999998" cy="338.5" rx="2.55" ry="1.50" fill="#b4e234" transform="rotate(-3,130.29999999999998,338.5)"/>
<ellipse cx="130.29999999999998" cy="338.5" rx="1.57" ry="0.92" fill="#f0b02c" transform="rotate(-3,130.29999999999998,338.5)"/>
<ellipse cx="130.29999999999998" cy="338.5" rx="0.82" ry="0.48" fill="#e85a28" transform="rotate(-3,130.29999999999998,338.5)"/>
<rect x="119.1" y="279.6" width="68.8" height="66" stroke="#333" stroke-width="0.9" fill="none" />
<line x1="119.1" y1="279.6" x2="119.1" y2="345.6" stroke="#111" stroke-width="1.1" />
<line x1="119.1" y1="345.6" x2="187.89999999999998" y2="345.6" stroke="#111" stroke-width="1.1" />
<line x1="117.3" y1="309.6" x2="119.1" y2="309.6" stroke="#555" stroke-width="0.6" />
<line x1="117.3" y1="343.6" x2="119.1" y2="343.6" stroke="#555" stroke-width="0.6" />
<line x1="131.1" y1="345.6" x2="131.1" y2="347.40000000000003" stroke="#555" stroke-width="0.6" />
<line x1="141.1" y1="345.6" x2="141.1" y2="347.40000000000003" stroke="#555" stroke-width="0.6" />
<line x1="157.1" y1="345.6" x2="157.1" y2="347.40000000000003" stroke="#555" stroke-width="0.6" />
<line x1="173.1" y1="345.6" x2="173.1" y2="347.40000000000003" stroke="#555" stroke-width="0.6" />
<line x1="187.1" y1="345.6" x2="187.1" y2="347.40000000000003" stroke="#555" stroke-width="0.6" />
<text x="129.1" y="350.1" font-size="3.4" fill="#888" text-anchor="start" font-weight="normal" >0</text>
<text x="139.1" y="350.1" font-size="3.4" fill="#888" text-anchor="start" font-weight="normal" >10³</text>
<text x="155.1" y="350.1" font-size="3.4" fill="#888" text-anchor="start" font-weight="normal" >10³</text>
<text x="171.1" y="350.1" font-size="3.4" fill="#888" text-anchor="start" font-weight="normal" >10³</text>
<text x="185.1" y="350.1" font-size="3.4" fill="#888" text-anchor="start" font-weight="normal" >10³</text>
<text x="113.6" y="310.90000000000003" font-size="3.0" fill="#888" text-anchor="start" font-weight="normal" transform="rotate(-90,115.1,309.6)">10³</text>
<rect x="138.7" y="325.20000000000005" width="23.6" height="17.9" stroke="#1a1a1a" stroke-width="1.3" fill="none" />
<text x="152.5" y="318.6" font-size="10" fill="#111" text-anchor="middle" font-weight="normal" stroke="#111" stroke-width="0.18" >16.64</text>
<circle cx="222.8" cy="333.5" r="0.45" fill="#b0a0b0" opacity="0.8"/>
<circle cx="229.4" cy="334.1" r="0.45" fill="#b0a0b0" opacity="0.8"/>
<circle cx="215.0" cy="330.4" r="0.45" fill="#b0a0b0" opacity="0.8"/>
<circle cx="216.4" cy="329.7" r="0.45" fill="#b0a0b0" opacity="0.8"/>
<circle cx="231.8" cy="332.1" r="0.45" fill="#b0a0b0" opacity="0.8"/>
<circle cx="231.0" cy="330.8" r="0.45" fill="#b0a0b0" opacity="0.8"/>
<circle cx="229.9" cy="331.3" r="0.45" fill="#b0a0b0" opacity="0.8"/>
<circle cx="219.0" cy="333.3" r="0.45" fill="#b0a0b0" opacity="0.8"/>
<circle cx="231.3" cy="329.2" r="0.45" fill="#b0a0b0" opacity="0.8"/>
<circle cx="225.0" cy="332.3" r="0.45" fill="#b0a0b0" opacity="0.8"/>
<circle cx="237.2" cy="333.4" r="0.45" fill="#9a9aaa" opacity="0.8"/>
<circle cx="235.8" cy="331.3" r="0.45" fill="#9a9aaa" opacity="0.8"/>
<circle cx="237.9" cy="336.4" r="0.45" fill="#9a9aaa" opacity="0.8"/>
<circle cx="245.0" cy="331.2" r="0.45" fill="#9a9aaa" opacity="0.8"/>
<circle cx="233.5" cy="332.9" r="0.45" fill="#9a9aaa" opacity="0.8"/>
<circle cx="245.5" cy="331.0" r="0.45" fill="#9a9aaa" opacity="0.8"/>
<circle cx="238.9" cy="331.2" r="0.45" fill="#9a9aaa" opacity="0.8"/>
<circle cx="247.6" cy="335.7" r="0.45" fill="#9a9aaa" opacity="0.8"/>
<circle cx="234.4" cy="329.9" r="0.45" fill="#9a9aaa" opacity="0.8"/>
<circle cx="240.4" cy="335.8" r="0.45" fill="#9a9aaa" opacity="0.8"/>
<circle cx="244.8" cy="329.8" r="0.45" fill="#9a9aaa" opacity="0.8"/>
<circle cx="236.2" cy="337.6" r="0.45" fill="#9a9aaa" opacity="0.8"/>
<circle cx="240.7" cy="332.3" r="0.45" fill="#9a9aaa" opacity="0.8"/>
<circle cx="238.8" cy="341.0" r="0.45" fill="#9a9aaa" opacity="0.8"/>
<circle cx="238.9" cy="336.0" r="0.45" fill="#9a9aaa" opacity="0.8"/>
<circle cx="239.7" cy="334.0" r="0.45" fill="#9a9aaa" opacity="0.8"/>
<circle cx="248.9" cy="341.6" r="0.45" fill="#9a9aaa" opacity="0.8"/>
<circle cx="239.8" cy="331.2" r="0.45" fill="#9a9aaa" opacity="0.8"/>
<circle cx="246.4" cy="331.2" r="0.45" fill="#9a9aaa" opacity="0.8"/>
<circle cx="233.4" cy="340.3" r="0.45" fill="#9a9aaa" opacity="0.8"/>
<circle cx="240.9" cy="339.3" r="0.45" fill="#9a9aaa" opacity="0.8"/>
<circle cx="240.6" cy="340.1" r="0.45" fill="#9a9aaa" opacity="0.8"/>
<ellipse cx="237.20000000000002" cy="336.6" rx="7.60" ry="6.60" fill="#2a48d0" transform="rotate(-25,237.20000000000002,336.6)"/>
<ellipse cx="237.20000000000002" cy="336.6" rx="6.84" ry="5.94" fill="#4aa8f4" transform="rotate(-25,237.20000000000002,336.6)"/>
<ellipse cx="237.20000000000002" cy="336.6" rx="5.78" ry="5.02" fill="#38cdec" transform="rotate(-25,237.20000000000002,336.6)"/>
<ellipse cx="237.20000000000002" cy="336.6" rx="4.71" ry="4.09" fill="#36dcb0" transform="rotate(-25,237.20000000000002,336.6)"/>
<ellipse cx="237.20000000000002" cy="336.6" rx="3.72" ry="3.23" fill="#4ade44" transform="rotate(-25,237.20000000000002,336.6)"/>
<ellipse cx="237.20000000000002" cy="336.6" rx="2.58" ry="2.24" fill="#b4e234" transform="rotate(-25,237.20000000000002,336.6)"/>
<ellipse cx="221.5" cy="338.6" rx="7.20" ry="4.80" fill="#2a48d0" transform="rotate(-5,221.5,338.6)"/>
<ellipse cx="221.5" cy="338.6" rx="6.48" ry="4.32" fill="#4aa8f4" transform="rotate(-5,221.5,338.6)"/>
<ellipse cx="221.5" cy="338.6" rx="5.47" ry="3.65" fill="#38cdec" transform="rotate(-5,221.5,338.6)"/>
<ellipse cx="221.5" cy="338.6" rx="4.46" ry="2.98" fill="#36dcb0" transform="rotate(-5,221.5,338.6)"/>
<ellipse cx="221.5" cy="338.6" rx="3.53" ry="2.35" fill="#4ade44" transform="rotate(-5,221.5,338.6)"/>
<ellipse cx="221.5" cy="338.6" rx="2.45" ry="1.63" fill="#b4e234" transform="rotate(-5,221.5,338.6)"/>
<ellipse cx="221.5" cy="338.6" rx="1.51" ry="1.01" fill="#f0b02c" transform="rotate(-5,221.5,338.6)"/>
<ellipse cx="221.5" cy="338.6" rx="0.79" ry="0.53" fill="#e85a28" transform="rotate(-5,221.5,338.6)"/>
<rect x="211.3" y="279.6" width="68.8" height="66" stroke="#333" stroke-width="0.9" fill="none" />
<line x1="211.3" y1="279.6" x2="211.3" y2="345.6" stroke="#111" stroke-width="1.1" />
<line x1="211.3" y1="345.6" x2="280.1" y2="345.6" stroke="#111" stroke-width="1.1" />
<line x1="209.5" y1="309.6" x2="211.3" y2="309.6" stroke="#555" stroke-width="0.6" />
<line x1="209.5" y1="343.6" x2="211.3" y2="343.6" stroke="#555" stroke-width="0.6" />
<line x1="223.3" y1="345.6" x2="223.3" y2="347.40000000000003" stroke="#555" stroke-width="0.6" />
<line x1="233.3" y1="345.6" x2="233.3" y2="347.40000000000003" stroke="#555" stroke-width="0.6" />
<line x1="249.3" y1="345.6" x2="249.3" y2="347.40000000000003" stroke="#555" stroke-width="0.6" />
<line x1="265.3" y1="345.6" x2="265.3" y2="347.40000000000003" stroke="#555" stroke-width="0.6" />
<line x1="279.3" y1="345.6" x2="279.3" y2="347.40000000000003" stroke="#555" stroke-width="0.6" />
<text x="221.3" y="350.1" font-size="3.4" fill="#888" text-anchor="start" font-weight="normal" >0</text>
<text x="231.3" y="350.1" font-size="3.4" fill="#888" text-anchor="start" font-weight="normal" >10³</text>
<text x="247.3" y="350.1" font-size="3.4" fill="#888" text-anchor="start" font-weight="normal" >10³</text>
<text x="263.3" y="350.1" font-size="3.4" fill="#888" text-anchor="start" font-weight="normal" >10³</text>
<text x="277.3" y="350.1" font-size="3.4" fill="#888" text-anchor="start" font-weight="normal" >10³</text>
<text x="205.8" y="310.90000000000003" font-size="3.0" fill="#888" text-anchor="start" font-weight="normal" transform="rotate(-90,207.3,309.6)">10³</text>
<rect x="230.20000000000002" y="325.20000000000005" width="23.6" height="17.9" stroke="#1a1a1a" stroke-width="1.3" fill="none" />
<text x="242.20000000000002" y="318.6" font-size="10" fill="#111" text-anchor="middle" font-weight="normal" stroke="#111" stroke-width="0.18" >40.22</text>
<text transform="translate(9.3,215.1) rotate(-90)" font-size="10.3" fill="#111" stroke="#111" stroke-width="0.18">WT</text>
<text transform="translate(10.8,315.8) rotate(-90)" font-size="10.6" fill="#111" stroke="#111" stroke-width="0.18">TB</text>
<line x1="19" y1="253.9" x2="40" y2="253.9" stroke="#111" stroke-width="1.5" />
<path d="M39.5,251.4 L39.5,256.4 L45.5,253.9 Z" fill="#111"/>
<text x="20.6" y="267.1" font-size="10" fill="#111" text-anchor="start" font-weight="normal" stroke="#111" stroke-width="0.18" >TIGIT-APC</text>
<line x1="19" y1="356" x2="40" y2="356" stroke="#111" stroke-width="1.5" />
<path d="M39.5,353.5 L39.5,358.5 L45.5,356 Z" fill="#111"/>
<text x="20.6" y="368.8" font-size="10" fill="#111" text-anchor="start" font-weight="normal" stroke="#111" stroke-width="0.18" >TIGIT-APC</text>
<text x="292" y="12.3" font-size="14" fill="#111" text-anchor="start" font-weight="bold" >C</text>
<text x="299.2" y="35.8" font-size="10.45" fill="#111" text-anchor="start" font-weight="normal" stroke="#111" stroke-width="0.18" >Treg/T ratio</text>
<text x="391" y="22.8" font-size="11.8" fill="#111" text-anchor="middle" font-weight="normal" stroke="#111" stroke-width="0.18" >WT</text>
<text x="389.9" y="35.6" font-size="11.4" fill="#111" text-anchor="middle" font-weight="normal" stroke="#111" stroke-width="0.18" >Tregs</text>
<text x="475.8" y="22.6" font-size="11.5" fill="#111" text-anchor="middle" font-weight="normal" stroke="#111" stroke-width="0.18" >TB</text>
<text x="477.5" y="35.6" font-size="11.4" fill="#111" text-anchor="middle" font-weight="normal" stroke="#111" stroke-width="0.18" >Tregs</text>
<text x="317" y="87.2" font-size="10.3" fill="#111" text-anchor="start" font-weight="normal" stroke="#111" stroke-width="0.18" >2:1</text>
<path d="M368.7,116.4 L371.4,115.7 L376.8,115.9 L378.9,113.5 L382.6,110.6 L384.8,102.0 L385.8,91.9 L386.9,102.0 L388.0,111.6 L390.6,114.3 L392.2,114.8 L394.9,112.7 L396.5,108.4 L398.1,87.0 L399.7,76.4 L401.3,62.5 L402.9,71.0 L404.0,87.0 L405.1,103.0 L406.1,112.7 L407.2,116.4 Z" fill="#f2424a" stroke="#c0283a" stroke-width="0.55" stroke-linejoin="round"/>
<rect x="357.3" y="51.9" width="64.2" height="64.6" stroke="#333" stroke-width="0.9" fill="none" />
<line x1="355.3" y1="116.5" x2="357.3" y2="116.5" stroke="#555" stroke-width="0.5" />
<text x="351.3" y="117.5" font-size="2.8" fill="#888" text-anchor="start" font-weight="normal" >10</text>
<line x1="355.3" y1="104.38" x2="357.3" y2="104.38" stroke="#555" stroke-width="0.5" />
<text x="351.3" y="105.38" font-size="2.8" fill="#888" text-anchor="start" font-weight="normal" >10</text>
<line x1="355.3" y1="92.26" x2="357.3" y2="92.26" stroke="#555" stroke-width="0.5" />
<text x="351.3" y="93.26" font-size="2.8" fill="#888" text-anchor="start" font-weight="normal" >10</text>
<line x1="355.3" y1="80.14" x2="357.3" y2="80.14" stroke="#555" stroke-width="0.5" />
<text x="351.3" y="81.14" font-size="2.8" fill="#888" text-anchor="start" font-weight="normal" >10</text>
<line x1="355.3" y1="68.02000000000001" x2="357.3" y2="68.02000000000001" stroke="#555" stroke-width="0.5" />
<text x="351.3" y="69.02000000000001" font-size="2.8" fill="#888" text-anchor="start" font-weight="normal" >10</text>
<line x1="355.3" y1="55.9" x2="357.3" y2="55.9" stroke="#555" stroke-width="0.5" />
<text x="351.3" y="56.9" font-size="2.8" fill="#888" text-anchor="start" font-weight="normal" >10</text>
<line x1="369.6" y1="116.5" x2="369.6" y2="118.3" stroke="#555" stroke-width="0.6" />
<text x="368.1" y="122.5" font-size="3" fill="#888" text-anchor="start" font-weight="normal" >10</text>
<line x1="392.1" y1="116.5" x2="392.1" y2="118.3" stroke="#555" stroke-width="0.6" />
<text x="390.6" y="122.5" font-size="3" fill="#888" text-anchor="start" font-weight="normal" >10</text>
<line x1="414.8" y1="116.5" x2="414.8" y2="118.3" stroke="#555" stroke-width="0.6" />
<text x="413.3" y="122.5" font-size="3" fill="#888" text-anchor="start" font-weight="normal" >10</text>
<text x="362.7" y="65.5" font-size="8.3" fill="#111" text-anchor="start" font-weight="normal" stroke="#111" stroke-width="0.18" >73.7</text>
<line x1="392" y1="63.5" x2="412.7" y2="63.5" stroke="#111" stroke-width="1.3" />
<line x1="392" y1="61.7" x2="392" y2="65.3" stroke="#111" stroke-width="1.1" />
<line x1="412.7" y1="61.7" x2="412.7" y2="65.3" stroke="#111" stroke-width="1.1" />
<path d="M457.1,116.4 L466.8,116.1 L468.9,113.2 L471.6,112.2 L473.7,108.4 L474.8,100.9 L475.8,96.7 L476.9,103.1 L478.0,111.6 L479.6,115.4 L481.7,115.9 L483.3,113.2 L485.4,109.0 L487.0,87.0 L488.7,71.0 L490.8,63.0 L491.9,68.9 L492.9,70.5 L494.0,83.8 L495.1,97.7 L496.1,111.6 L497.2,116.4 Z" fill="#f2424a" stroke="#c0283a" stroke-width="0.55" stroke-linejoin="round"/>
<rect x="447.2" y="51.9" width="64.2" height="64.6" stroke="#333" stroke-width="0.9" fill="none" />
<line x1="445.2" y1="116.5" x2="447.2" y2="116.5" stroke="#555" stroke-width="0.5" />
<text x="441.2" y="117.5" font-size="2.8" fill="#888" text-anchor="start" font-weight="normal" >10</text>
<line x1="445.2" y1="104.38" x2="447.2" y2="104.38" stroke="#555" stroke-width="0.5" />
<text x="441.2" y="105.38" font-size="2.8" fill="#888" text-anchor="start" font-weight="normal" >10</text>
<line x1="445.2" y1="92.26" x2="447.2" y2="92.26" stroke="#555" stroke-width="0.5" />
<text x="441.2" y="93.26" font-size="2.8" fill="#888" text-anchor="start" font-weight="normal" >10</text>
<line x1="445.2" y1="80.14" x2="447.2" y2="80.14" stroke="#555" stroke-width="0.5" />
<text x="441.2" y="81.14" font-size="2.8" fill="#888" text-anchor="start" font-weight="normal" >10</text>
<line x1="445.2" y1="68.02000000000001" x2="447.2" y2="68.02000000000001" stroke="#555" stroke-width="0.5" />
<text x="441.2" y="69.02000000000001" font-size="2.8" fill="#888" text-anchor="start" font-weight="normal" >10</text>
<line x1="445.2" y1="55.9" x2="447.2" y2="55.9" stroke="#555" stroke-width="0.5" />
<text x="441.2" y="56.9" font-size="2.8" fill="#888" text-anchor="start" font-weight="normal" >10</text>
<line x1="459.5" y1="116.5" x2="459.5" y2="118.3" stroke="#555" stroke-width="0.6" />
<text x="458.0" y="122.5" font-size="3" fill="#888" text-anchor="start" font-weight="normal" >10</text>
<line x1="482.0" y1="116.5" x2="482.0" y2="118.3" stroke="#555" stroke-width="0.6" />
<text x="480.5" y="122.5" font-size="3" fill="#888" text-anchor="start" font-weight="normal" >10</text>
<line x1="504.7" y1="116.5" x2="504.7" y2="118.3" stroke="#555" stroke-width="0.6" />
<text x="503.2" y="122.5" font-size="3" fill="#888" text-anchor="start" font-weight="normal" >10</text>
<text x="455.5" y="65.5" font-size="8.3" fill="#111" text-anchor="start" font-weight="normal" stroke="#111" stroke-width="0.18" >79.1</text>
<line x1="481.5" y1="63.5" x2="502.7" y2="63.5" stroke="#111" stroke-width="1.3" />
<line x1="481.5" y1="61.7" x2="481.5" y2="65.3" stroke="#111" stroke-width="1.1" />
<line x1="502.7" y1="61.7" x2="502.7" y2="65.3" stroke="#111" stroke-width="1.1" />
<text x="317" y="167.7" font-size="10.3" fill="#111" text-anchor="start" font-weight="normal" stroke="#111" stroke-width="0.18" >1:1</text>
<path d="M369.3,195.8 L370.3,189.6 L371.9,187.5 L373.5,181.6 L375.1,180.0 L376.5,180.0 L377.6,168.3 L378.6,158.6 L379.6,168.3 L380.8,176.8 L382.1,168.3 L383.2,158.1 L384.2,168.3 L385.8,180.0 L386.9,176.8 L388.3,173.6 L389.4,180.0 L391.2,186.4 L393.0,181.6 L394.4,184.3 L396.0,185.9 L397.1,167.2 L398.7,137.8 L400.0,154.4 L401.3,177.9 L402.4,189.6 L404.0,194.8 L406.7,195.8 Z" fill="#f2424a" stroke="#c0283a" stroke-width="0.55" stroke-linejoin="round"/>
<rect x="357.3" y="131.5" width="64.2" height="64.69999999999999" stroke="#333" stroke-width="0.9" fill="none" />
<line x1="355.3" y1="196.2" x2="357.3" y2="196.2" stroke="#555" stroke-width="0.5" />
<text x="351.3" y="197.2" font-size="2.8" fill="#888" text-anchor="start" font-weight="normal" >10</text>
<line x1="355.3" y1="184.06" x2="357.3" y2="184.06" stroke="#555" stroke-width="0.5" />
<text x="351.3" y="185.06" font-size="2.8" fill="#888" text-anchor="start" font-weight="normal" >10</text>
<line x1="355.3" y1="171.92" x2="357.3" y2="171.92" stroke="#555" stroke-width="0.5" />
<text x="351.3" y="172.92" font-size="2.8" fill="#888" text-anchor="start" font-weight="normal" >10</text>
<line x1="355.3" y1="159.78" x2="357.3" y2="159.78" stroke="#555" stroke-width="0.5" />
<text x="351.3" y="160.78" font-size="2.8" fill="#888" text-anchor="start" font-weight="normal" >10</text>
<line x1="355.3" y1="147.64" x2="357.3" y2="147.64" stroke="#555" stroke-width="0.5" />
<text x="351.3" y="148.64" font-size="2.8" fill="#888" text-anchor="start" font-weight="normal" >10</text>
<line x1="355.3" y1="135.5" x2="357.3" y2="135.5" stroke="#555" stroke-width="0.5" />
<text x="351.3" y="136.5" font-size="2.8" fill="#888" text-anchor="start" font-weight="normal" >10</text>
<line x1="369.6" y1="196.2" x2="369.6" y2="198.0" stroke="#555" stroke-width="0.6" />
<text x="368.1" y="202.2" font-size="3" fill="#888" text-anchor="start" font-weight="normal" >10</text>
<line x1="392.1" y1="196.2" x2="392.1" y2="198.0" stroke="#555" stroke-width="0.6" />
<text x="390.6" y="202.2" font-size="3" fill="#888" text-anchor="start" font-weight="normal" >10</text>
<line x1="414.8" y1="196.2" x2="414.8" y2="198.0" stroke="#555" stroke-width="0.6" />
<text x="413.3" y="202.2" font-size="3" fill="#888" text-anchor="start" font-weight="normal" >10</text>
<text x="362.7" y="141.3" font-size="8.3" fill="#111" text-anchor="start" font-weight="normal" stroke="#111" stroke-width="0.18" >34.9</text>
<line x1="392.7" y1="142.4" x2="412" y2="142.4" stroke="#111" stroke-width="1.3" />
<line x1="392.7" y1="140.6" x2="392.7" y2="144.20000000000002" stroke="#111" stroke-width="1.1" />
<line x1="412" y1="140.6" x2="412" y2="144.20000000000002" stroke="#111" stroke-width="1.1" />
<path d="M465.7,195.8 L466.8,188.6 L468.4,178.9 L470.0,180.5 L472.1,184.3 L473.7,187.0 L474.8,184.3 L475.8,184.8 L476.9,182.1 L478.0,177.3 L479.0,183.2 L480.6,183.2 L482.2,184.3 L483.8,184.3 L484.9,181.1 L486.0,165.0 L488.1,143.1 L489.2,154.4 L490.3,168.3 L491.9,175.7 L493.5,176.8 L494.5,183.2 L495.6,191.8 L496.9,195.8 Z" fill="#f2424a" stroke="#c0283a" stroke-width="0.55" stroke-linejoin="round"/>
<rect x="447.2" y="131.5" width="64.2" height="64.69999999999999" stroke="#333" stroke-width="0.9" fill="none" />
<line x1="445.2" y1="196.2" x2="447.2" y2="196.2" stroke="#555" stroke-width="0.5" />
<text x="441.2" y="197.2" font-size="2.8" fill="#888" text-anchor="start" font-weight="normal" >10</text>
<line x1="445.2" y1="184.06" x2="447.2" y2="184.06" stroke="#555" stroke-width="0.5" />
<text x="441.2" y="185.06" font-size="2.8" fill="#888" text-anchor="start" font-weight="normal" >10</text>
<line x1="445.2" y1="171.92" x2="447.2" y2="171.92" stroke="#555" stroke-width="0.5" />
<text x="441.2" y="172.92" font-size="2.8" fill="#888" text-anchor="start" font-weight="normal" >10</text>
<line x1="445.2" y1="159.78" x2="447.2" y2="159.78" stroke="#555" stroke-width="0.5" />
<text x="441.2" y="160.78" font-size="2.8" fill="#888" text-anchor="start" font-weight="normal" >10</text>
<line x1="445.2" y1="147.64" x2="447.2" y2="147.64" stroke="#555" stroke-width="0.5" />
<text x="441.2" y="148.64" font-size="2.8" fill="#888" text-anchor="start" font-weight="normal" >10</text>
<line x1="445.2" y1="135.5" x2="447.2" y2="135.5" stroke="#555" stroke-width="0.5" />
<text x="441.2" y="136.5" font-size="2.8" fill="#888" text-anchor="start" font-weight="normal" >10</text>
<line x1="459.5" y1="196.2" x2="459.5" y2="198.0" stroke="#555" stroke-width="0.6" />
<text x="458.0" y="202.2" font-size="3" fill="#888" text-anchor="start" font-weight="normal" >10</text>
<line x1="482.0" y1="196.2" x2="482.0" y2="198.0" stroke="#555" stroke-width="0.6" />
<text x="480.5" y="202.2" font-size="3" fill="#888" text-anchor="start" font-weight="normal" >10</text>
<line x1="504.7" y1="196.2" x2="504.7" y2="198.0" stroke="#555" stroke-width="0.6" />
<text x="503.2" y="202.2" font-size="3" fill="#888" text-anchor="start" font-weight="normal" >10</text>
<text x="455.5" y="141.3" font-size="8.3" fill="#111" text-anchor="start" font-weight="normal" stroke="#111" stroke-width="0.18" >64.0</text>
<line x1="481.5" y1="142.7" x2="502.7" y2="142.7" stroke="#111" stroke-width="1.3" />
<line x1="481.5" y1="140.89999999999998" x2="481.5" y2="144.5" stroke="#111" stroke-width="1.1" />
<line x1="502.7" y1="140.89999999999998" x2="502.7" y2="144.5" stroke="#111" stroke-width="1.1" />
<text x="317" y="248" font-size="10.3" fill="#111" text-anchor="start" font-weight="normal" stroke="#111" stroke-width="0.18" >1:2</text>
<path d="M370.9,275.3 L371.9,272.8 L374.1,272.1 L375.1,270.7 L376.2,261.1 L377.6,248.3 L378.7,240.2 L380.0,250.4 L381.0,256.8 L382.6,239.7 L384.2,220.5 L385.8,245.1 L387.4,261.1 L389.0,252.5 L390.3,248.3 L391.7,257.9 L393.3,265.4 L394.4,265.4 L396.0,255.7 L397.9,249.9 L399.2,257.9 L400.8,269.6 L403.5,272.3 L406.1,273.9 L408.8,275.3 Z" fill="#f2424a" stroke="#c0283a" stroke-width="0.55" stroke-linejoin="round"/>
<rect x="357.3" y="211.3" width="64.2" height="64.19999999999999" stroke="#333" stroke-width="0.9" fill="none" />
<line x1="355.3" y1="275.5" x2="357.3" y2="275.5" stroke="#555" stroke-width="0.5" />
<text x="351.3" y="276.5" font-size="2.8" fill="#888" text-anchor="start" font-weight="normal" >10</text>
<line x1="355.3" y1="263.46" x2="357.3" y2="263.46" stroke="#555" stroke-width="0.5" />
<text x="351.3" y="264.46" font-size="2.8" fill="#888" text-anchor="start" font-weight="normal" >10</text>
<line x1="355.3" y1="251.42000000000002" x2="357.3" y2="251.42000000000002" stroke="#555" stroke-width="0.5" />
<text x="351.3" y="252.42000000000002" font-size="2.8" fill="#888" text-anchor="start" font-weight="normal" >10</text>
<line x1="355.3" y1="239.38" x2="357.3" y2="239.38" stroke="#555" stroke-width="0.5" />
<text x="351.3" y="240.38" font-size="2.8" fill="#888" text-anchor="start" font-weight="normal" >10</text>
<line x1="355.3" y1="227.34" x2="357.3" y2="227.34" stroke="#555" stroke-width="0.5" />
<text x="351.3" y="228.34" font-size="2.8" fill="#888" text-anchor="start" font-weight="normal" >10</text>
<line x1="355.3" y1="215.3" x2="357.3" y2="215.3" stroke="#555" stroke-width="0.5" />
<text x="351.3" y="216.3" font-size="2.8" fill="#888" text-anchor="start" font-weight="normal" >10</text>
<line x1="369.6" y1="275.5" x2="369.6" y2="277.3" stroke="#555" stroke-width="0.6" />
<text x="368.1" y="281.5" font-size="3" fill="#888" text-anchor="start" font-weight="normal" >10</text>
<line x1="392.1" y1="275.5" x2="392.1" y2="277.3" stroke="#555" stroke-width="0.6" />
<text x="390.6" y="281.5" font-size="3" fill="#888" text-anchor="start" font-weight="normal" >10</text>
<line x1="414.8" y1="275.5" x2="414.8" y2="277.3" stroke="#555" stroke-width="0.6" />
<text x="413.3" y="281.5" font-size="3" fill="#888" text-anchor="start" font-weight="normal" >10</text>
<text x="362.7" y="222" font-size="8.3" fill="#111" text-anchor="start" font-weight="normal" stroke="#111" stroke-width="0.18" >23.3</text>
<line x1="393.9" y1="225.5" x2="412.2" y2="225.5" stroke="#111" stroke-width="1.3" />
<line x1="393.9" y1="223.7" x2="393.9" y2="227.3" stroke="#111" stroke-width="1.1" />
<line x1="412.2" y1="223.7" x2="412.2" y2="227.3" stroke="#111" stroke-width="1.1" />
<path d="M448.2,275.3 L448.4,272.4 L451.0,271.3 L453.9,272.1 L458.5,271.8 L460.8,267.2 L462.6,265.5 L464.1,265.5 L465.5,256.8 L466.8,248.8 L468.3,245.9 L469.8,249.9 L471.2,258.0 L472.6,247.6 L474.1,241.8 L475.6,251.1 L477.2,260.3 L478.7,256.8 L480.2,252.2 L481.6,255.7 L483.3,256.8 L485.1,254.5 L486.8,251.1 L488.5,239.5 L490.3,232.0 L492.0,240.1 L493.7,243.6 L494.9,255.7 L496.4,266.1 L498.3,270.1 L500.7,273.6 L503.5,275.3 Z" fill="#f2424a" stroke="#c0283a" stroke-width="0.55" stroke-linejoin="round"/>
<rect x="447.2" y="211.3" width="64.2" height="64.19999999999999" stroke="#333" stroke-width="0.9" fill="none" />
<line x1="445.2" y1="275.5" x2="447.2" y2="275.5" stroke="#555" stroke-width="0.5" />
<text x="441.2" y="276.5" font-size="2.8" fill="#888" text-anchor="start" font-weight="normal" >10</text>
<line x1="445.2" y1="263.46" x2="447.2" y2="263.46" stroke="#555" stroke-width="0.5" />
<text x="441.2" y="264.46" font-size="2.8" fill="#888" text-anchor="start" font-weight="normal" >10</text>
<line x1="445.2" y1="251.42000000000002" x2="447.2" y2="251.42000000000002" stroke="#555" stroke-width="0.5" />
<text x="441.2" y="252.42000000000002" font-size="2.8" fill="#888" text-anchor="start" font-weight="normal" >10</text>
<line x1="445.2" y1="239.38" x2="447.2" y2="239.38" stroke="#555" stroke-width="0.5" />
<text x="441.2" y="240.38" font-size="2.8" fill="#888" text-anchor="start" font-weight="normal" >10</text>
<line x1="445.2" y1="227.34" x2="447.2" y2="227.34" stroke="#555" stroke-width="0.5" />
<text x="441.2" y="228.34" font-size="2.8" fill="#888" text-anchor="start" font-weight="normal" >10</text>
<line x1="445.2" y1="215.3" x2="447.2" y2="215.3" stroke="#555" stroke-width="0.5" />
<text x="441.2" y="216.3" font-size="2.8" fill="#888" text-anchor="start" font-weight="normal" >10</text>
<line x1="459.5" y1="275.5" x2="459.5" y2="277.3" stroke="#555" stroke-width="0.6" />
<text x="458.0" y="281.5" font-size="3" fill="#888" text-anchor="start" font-weight="normal" >10</text>
<line x1="482.0" y1="275.5" x2="482.0" y2="277.3" stroke="#555" stroke-width="0.6" />
<text x="480.5" y="281.5" font-size="3" fill="#888" text-anchor="start" font-weight="normal" >10</text>
<line x1="504.7" y1="275.5" x2="504.7" y2="277.3" stroke="#555" stroke-width="0.6" />
<text x="503.2" y="281.5" font-size="3" fill="#888" text-anchor="start" font-weight="normal" >10</text>
<text x="455.5" y="222" font-size="8.3" fill="#111" text-anchor="start" font-weight="normal" stroke="#111" stroke-width="0.18" >41.3</text>
<line x1="483.5" y1="225.3" x2="501.6" y2="225.3" stroke="#111" stroke-width="1.3" />
<line x1="483.5" y1="223.5" x2="483.5" y2="227.10000000000002" stroke="#111" stroke-width="1.1" />
<line x1="501.6" y1="223.5" x2="501.6" y2="227.10000000000002" stroke="#111" stroke-width="1.1" />
<text x="317" y="325.8" font-size="10.3" fill="#111" text-anchor="start" font-weight="normal" stroke="#111" stroke-width="0.18" >1:4</text>
<path d="M368.0,354.0 L370.1,351.8 L371.8,348.1 L373.9,347.3 L375.5,345.4 L376.6,332.6 L377.6,313.4 L378.4,305.4 L379.4,318.7 L380.8,335.8 L382.4,327.3 L384.0,315.0 L385.1,327.3 L386.2,340.1 L387.8,344.4 L389.4,342.2 L390.4,341.1 L391.5,344.4 L393.1,348.6 L395.3,348.1 L397.4,346.7 L398.7,348.6 L400.1,352.4 L402.2,354.0 Z" fill="#f2424a" stroke="#c0283a" stroke-width="0.55" stroke-linejoin="round"/>
<rect x="357.3" y="290.2" width="64.2" height="64.0" stroke="#333" stroke-width="0.9" fill="none" />
<line x1="355.3" y1="354.2" x2="357.3" y2="354.2" stroke="#555" stroke-width="0.5" />
<text x="351.3" y="355.2" font-size="2.8" fill="#888" text-anchor="start" font-weight="normal" >10</text>
<line x1="355.3" y1="342.2" x2="357.3" y2="342.2" stroke="#555" stroke-width="0.5" />
<text x="351.3" y="343.2" font-size="2.8" fill="#888" text-anchor="start" font-weight="normal" >10</text>
<line x1="355.3" y1="330.2" x2="357.3" y2="330.2" stroke="#555" stroke-width="0.5" />
<text x="351.3" y="331.2" font-size="2.8" fill="#888" text-anchor="start" font-weight="normal" >10</text>
<line x1="355.3" y1="318.2" x2="357.3" y2="318.2" stroke="#555" stroke-width="0.5" />
<text x="351.3" y="319.2" font-size="2.8" fill="#888" text-anchor="start" font-weight="normal" >10</text>
<line x1="355.3" y1="306.2" x2="357.3" y2="306.2" stroke="#555" stroke-width="0.5" />
<text x="351.3" y="307.2" font-size="2.8" fill="#888" text-anchor="start" font-weight="normal" >10</text>
<line x1="355.3" y1="294.2" x2="357.3" y2="294.2" stroke="#555" stroke-width="0.5" />
<text x="351.3" y="295.2" font-size="2.8" fill="#888" text-anchor="start" font-weight="normal" >10</text>
<line x1="369.6" y1="354.2" x2="369.6" y2="356.0" stroke="#555" stroke-width="0.6" />
<text x="368.1" y="360.2" font-size="3" fill="#888" text-anchor="start" font-weight="normal" >10</text>
<line x1="392.1" y1="354.2" x2="392.1" y2="356.0" stroke="#555" stroke-width="0.6" />
<text x="390.6" y="360.2" font-size="3" fill="#888" text-anchor="start" font-weight="normal" >10</text>
<line x1="414.8" y1="354.2" x2="414.8" y2="356.0" stroke="#555" stroke-width="0.6" />
<text x="413.3" y="360.2" font-size="3" fill="#888" text-anchor="start" font-weight="normal" >10</text>
<text x="362.7" y="302.6" font-size="8.3" fill="#111" text-anchor="start" font-weight="normal" stroke="#111" stroke-width="0.18" >9.08</text>
<line x1="393.9" y1="304.5" x2="412" y2="304.5" stroke="#111" stroke-width="1.3" />
<line x1="393.9" y1="302.7" x2="393.9" y2="306.3" stroke="#111" stroke-width="1.1" />
<line x1="412" y1="302.7" x2="412" y2="306.3" stroke="#111" stroke-width="1.1" />
<path d="M458.4,354.0 L460.5,352.4 L463.8,351.3 L465.4,347.6 L466.4,334.7 L467.8,320.3 L469.1,329.4 L470.4,340.1 L471.8,324.1 L473.2,303.8 L473.7,296.8 L474.6,305.9 L475.7,327.3 L477.1,340.1 L478.5,334.7 L479.8,326.7 L481.1,334.7 L483.0,346.5 L484.6,343.3 L486.2,336.9 L487.8,334.2 L489.2,339.0 L490.7,347.6 L492.6,351.8 L495.8,353.1 L497.9,354.0 Z" fill="#f2424a" stroke="#c0283a" stroke-width="0.55" stroke-linejoin="round"/>
<rect x="447.2" y="290.2" width="64.2" height="64.0" stroke="#333" stroke-width="0.9" fill="none" />
<line x1="445.2" y1="354.2" x2="447.2" y2="354.2" stroke="#555" stroke-width="0.5" />
<text x="441.2" y="355.2" font-size="2.8" fill="#888" text-anchor="start" font-weight="normal" >10</text>
<line x1="445.2" y1="342.2" x2="447.2" y2="342.2" stroke="#555" stroke-width="0.5" />
<text x="441.2" y="343.2" font-size="2.8" fill="#888" text-anchor="start" font-weight="normal" >10</text>
<line x1="445.2" y1="330.2" x2="447.2" y2="330.2" stroke="#555" stroke-width="0.5" />
<text x="441.2" y="331.2" font-size="2.8" fill="#888" text-anchor="start" font-weight="normal" >10</text>
<line x1="445.2" y1="318.2" x2="447.2" y2="318.2" stroke="#555" stroke-width="0.5" />
<text x="441.2" y="319.2" font-size="2.8" fill="#888" text-anchor="start" font-weight="normal" >10</text>
<line x1="445.2" y1="306.2" x2="447.2" y2="306.2" stroke="#555" stroke-width="0.5" />
<text x="441.2" y="307.2" font-size="2.8" fill="#888" text-anchor="start" font-weight="normal" >10</text>
<line x1="445.2" y1="294.2" x2="447.2" y2="294.2" stroke="#555" stroke-width="0.5" />
<text x="441.2" y="295.2" font-size="2.8" fill="#888" text-anchor="start" font-weight="normal" >10</text>
<line x1="459.5" y1="354.2" x2="459.5" y2="356.0" stroke="#555" stroke-width="0.6" />
<text x="458.0" y="360.2" font-size="3" fill="#888" text-anchor="start" font-weight="normal" >10</text>
<line x1="482.0" y1="354.2" x2="482.0" y2="356.0" stroke="#555" stroke-width="0.6" />
<text x="480.5" y="360.2" font-size="3" fill="#888" text-anchor="start" font-weight="normal" >10</text>
<line x1="504.7" y1="354.2" x2="504.7" y2="356.0" stroke="#555" stroke-width="0.6" />
<text x="503.2" y="360.2" font-size="3" fill="#888" text-anchor="start" font-weight="normal" >10</text>
<text x="455.5" y="302.4" font-size="8.3" fill="#111" text-anchor="start" font-weight="normal" stroke="#111" stroke-width="0.18" >21.5</text>
<line x1="483.5" y1="304.5" x2="501.5" y2="304.5" stroke="#111" stroke-width="1.3" />
<line x1="483.5" y1="302.7" x2="483.5" y2="306.3" stroke="#111" stroke-width="1.1" />
<line x1="501.5" y1="302.7" x2="501.5" y2="306.3" stroke="#111" stroke-width="1.1" />
<line x1="336" y1="363.7" x2="514" y2="363.7" stroke="#555" stroke-width="0.9" />
<path d="M513.8,361.09999999999997 L513.8,366.3 L519.8,363.7 Z" fill="#111"/>
<text x="329.5" y="376.1" font-size="9.4" fill="#111" text-anchor="start" font-weight="normal" stroke="#111" stroke-width="0.18" >CFSE</text>
<text x="3.8" y="406.9" font-size="14" fill="#111" text-anchor="start" font-weight="bold" >B</text>
<line x1="53.4" y1="413.0" x2="53.4" y2="524.1" stroke="#111" stroke-width="1.1" />
<line x1="53.4" y1="523.5" x2="240.5" y2="523.5" stroke="#111" stroke-width="1.1" />
<line x1="51.0" y1="523.5" x2="53.4" y2="523.5" stroke="#111" stroke-width="1.0" />
<text x="46.8" y="527.5" font-size="9.8" fill="#111" text-anchor="end" font-weight="normal" stroke="#111" stroke-width="0.18" >0</text>
<line x1="51.0" y1="501.5" x2="53.4" y2="501.5" stroke="#111" stroke-width="1.0" />
<text x="46.8" y="505.5" font-size="9.8" fill="#111" text-anchor="end" font-weight="normal" stroke="#111" stroke-width="0.18" >10</text>
<line x1="51.0" y1="479.5" x2="53.4" y2="479.5" stroke="#111" stroke-width="1.0" />
<text x="46.8" y="483.5" font-size="9.8" fill="#111" text-anchor="end" font-weight="normal" stroke="#111" stroke-width="0.18" >20</text>
<line x1="51.0" y1="457.5" x2="53.4" y2="457.5" stroke="#111" stroke-width="1.0" />
<text x="46.8" y="461.5" font-size="9.8" fill="#111" text-anchor="end" font-weight="normal" stroke="#111" stroke-width="0.18" >30</text>
<line x1="51.0" y1="435.5" x2="53.4" y2="435.5" stroke="#111" stroke-width="1.0" />
<text x="46.8" y="439.5" font-size="9.8" fill="#111" text-anchor="end" font-weight="normal" stroke="#111" stroke-width="0.18" >40</text>
<line x1="51.0" y1="413.5" x2="53.4" y2="413.5" stroke="#111" stroke-width="1.0" />
<text x="46.8" y="417.5" font-size="9.8" fill="#111" text-anchor="end" font-weight="normal" stroke="#111" stroke-width="0.18" >50</text>
<text transform="translate(20.9,485.2) rotate(-90)" font-size="9.8" fill="#111" stroke="#111" stroke-width="0.18">TIGIT (%)</text>
<line x1="69" y1="523.5" x2="69" y2="525.9" stroke="#111" stroke-width="1.0" />
<rect x="60.85" y="521.52" width="16.3" height="1.9800000000000182" fill="#fff" stroke="#0a0af0" stroke-width="1.5"/>
<line x1="69" y1="520.86" x2="69" y2="522.18" stroke="#0a0af0" stroke-width="1.1" />
<line x1="66" y1="520.86" x2="72" y2="520.86" stroke="#0a0af0" stroke-width="1.1" />
<line x1="66" y1="522.18" x2="72" y2="522.18" stroke="#0a0af0" stroke-width="1.1" />
<circle cx="64.5" cy="521.5" r="2.0" fill="#0a0af0"/>
<circle cx="67.5" cy="519.9" r="2.0" fill="#0a0af0"/>
<circle cx="70.5" cy="521.5" r="2.0" fill="#0a0af0"/>
<circle cx="73.5" cy="519.6" r="2.0" fill="#0a0af0"/>
<circle cx="76.0" cy="521.6" r="2.0" fill="#0a0af0"/>
<circle cx="69.0" cy="522.6" r="2.0" fill="#0a0af0"/>
<line x1="100.3" y1="523.5" x2="100.3" y2="525.9" stroke="#111" stroke-width="1.0" />
<rect x="92.14999999999999" y="515.58" width="16.3" height="7.919999999999959" fill="#fff" stroke="#1a7f1a" stroke-width="1.5"/>
<line x1="100.3" y1="514.7" x2="100.3" y2="516.46" stroke="#1a7f1a" stroke-width="1.1" />
<line x1="97.3" y1="514.7" x2="103.3" y2="514.7" stroke="#1a7f1a" stroke-width="1.1" />
<line x1="97.3" y1="516.46" x2="103.3" y2="516.46" stroke="#1a7f1a" stroke-width="1.1" />
<circle cx="97.4" cy="514.4" r="2.0" fill="#1a7f1a"/>
<circle cx="103.5" cy="512.3" r="2.0" fill="#1a7f1a"/>
<circle cx="100.9" cy="516.6" r="2.0" fill="#1a7f1a"/>
<circle cx="96.5" cy="516.5" r="2.0" fill="#1a7f1a"/>
<circle cx="104.5" cy="515.8" r="2.0" fill="#1a7f1a"/>
<circle cx="100.0" cy="514.2" r="2.0" fill="#1a7f1a"/>
<line x1="131.2" y1="523.5" x2="131.2" y2="525.9" stroke="#111" stroke-width="1.0" />
<rect x="123.04999999999998" y="504.36" width="16.3" height="19.139999999999986" fill="#fff" stroke="#e81818" stroke-width="1.5"/>
<line x1="131.2" y1="502.6" x2="131.2" y2="506.12" stroke="#e81818" stroke-width="1.1" />
<line x1="128.2" y1="502.6" x2="134.2" y2="502.6" stroke="#e81818" stroke-width="1.1" />
<line x1="128.2" y1="506.12" x2="134.2" y2="506.12" stroke="#e81818" stroke-width="1.1" />
<circle cx="126.0" cy="500.2" r="2.0" fill="#e81818"/>
<circle cx="136.3" cy="498.5" r="2.0" fill="#e81818"/>
<circle cx="131.2" cy="501.9" r="2.0" fill="#e81818"/>
<circle cx="127.7" cy="504.5" r="2.0" fill="#e81818"/>
<circle cx="135.5" cy="508.0" r="2.0" fill="#e81818"/>
<circle cx="131.2" cy="509.7" r="2.0" fill="#e81818"/>
<line x1="162.6" y1="523.5" x2="162.6" y2="525.9" stroke="#111" stroke-width="1.0" />
<rect x="154.45" y="518.44" width="16.3" height="5.059999999999945" fill="#fff" stroke="#0a0af0" stroke-width="1.5"/>
<line x1="162.6" y1="517.56" x2="162.6" y2="519.32" stroke="#0a0af0" stroke-width="1.1" />
<line x1="159.6" y1="517.56" x2="165.6" y2="517.56" stroke="#0a0af0" stroke-width="1.1" />
<line x1="159.6" y1="519.32" x2="165.6" y2="519.32" stroke="#0a0af0" stroke-width="1.1" />
<circle cx="159.5" cy="517.2" r="2.0" fill="#0a0af0"/>
<circle cx="165.2" cy="517.2" r="2.0" fill="#0a0af0"/>
<circle cx="162.5" cy="520.0" r="2.0" fill="#0a0af0"/>
<circle cx="158.5" cy="519.5" r="2.0" fill="#0a0af0"/>
<circle cx="166.5" cy="519.5" r="2.0" fill="#0a0af0"/>
<circle cx="162.0" cy="518.3" r="2.0" fill="#0a0af0"/>
<line x1="193.7" y1="523.5" x2="193.7" y2="525.9" stroke="#111" stroke-width="1.0" />
<rect x="185.54999999999998" y="505.24" width="16.3" height="18.25999999999999" fill="#fff" stroke="#1a7f1a" stroke-width="1.5"/>
<line x1="193.7" y1="503.92" x2="193.7" y2="506.56" stroke="#1a7f1a" stroke-width="1.1" />
<line x1="190.7" y1="503.92" x2="196.7" y2="503.92" stroke="#1a7f1a" stroke-width="1.1" />
<line x1="190.7" y1="506.56" x2="196.7" y2="506.56" stroke="#1a7f1a" stroke-width="1.1" />
<circle cx="186.3" cy="502.3" r="2.0" fill="#1a7f1a"/>
<circle cx="199.0" cy="501.0" r="2.0" fill="#1a7f1a"/>
<circle cx="193.3" cy="503.7" r="2.0" fill="#1a7f1a"/>
<circle cx="189.8" cy="506.2" r="2.0" fill="#1a7f1a"/>
<circle cx="194.1" cy="510.2" r="2.0" fill="#1a7f1a"/>
<circle cx="198.5" cy="508.8" r="2.0" fill="#1a7f1a"/>
<line x1="224.9" y1="523.5" x2="224.9" y2="525.9" stroke="#111" stroke-width="1.0" />
<rect x="216.75" y="443.86" width="16.3" height="79.63999999999999" fill="#fff" stroke="#e81818" stroke-width="1.5"/>
<line x1="224.9" y1="440.34" x2="224.9" y2="447.38" stroke="#e81818" stroke-width="1.1" />
<line x1="221.9" y1="440.34" x2="227.9" y2="440.34" stroke="#e81818" stroke-width="1.1" />
<line x1="221.9" y1="447.38" x2="227.9" y2="447.38" stroke="#e81818" stroke-width="1.1" />
<circle cx="222.1" cy="434.4" r="2.0" fill="#e81818"/>
<circle cx="227.8" cy="433.1" r="2.0" fill="#e81818"/>
<circle cx="221.4" cy="441.2" r="2.0" fill="#e81818"/>
<circle cx="226.7" cy="445.8" r="2.0" fill="#e81818"/>
<circle cx="222.5" cy="455.5" r="2.0" fill="#e81818"/>
<circle cx="227.8" cy="452.8" r="2.0" fill="#e81818"/>
<line x1="53.4" y1="523.5" x2="240.5" y2="523.5" stroke="#111" stroke-width="1.1" />
<line x1="68.8" y1="427.5" x2="135.5" y2="427.5" stroke="#333" stroke-width="1.45" />
<text x="83" y="420.2" font-size="7.7" fill="#111" stroke="#111" stroke-width="0.18"><tspan font-style="italic">P</tspan> &lt; 0.0001</text>
<line x1="99.9" y1="446.8" x2="132.7" y2="446.8" stroke="#333" stroke-width="1.45" />
<text x="96.3" y="438.8" font-size="7.7" fill="#111" stroke="#111" stroke-width="0.18"><tspan font-style="italic">P</tspan> = 0.0019</text>
<line x1="133" y1="388.8" x2="225" y2="388.8" stroke="#333" stroke-width="1.45" />
<text x="162.5" y="380.5" font-size="7.7" fill="#111" stroke="#111" stroke-width="0.18"><tspan font-style="italic">P</tspan> &lt; 0.0001</text>
<line x1="161.3" y1="408.3" x2="225" y2="408.3" stroke="#333" stroke-width="1.45" />
<text x="172" y="400.7" font-size="7.7" fill="#111" stroke="#111" stroke-width="0.18"><tspan font-style="italic">P</tspan> &lt; 0.0001</text>
<line x1="197.1" y1="428.5" x2="224.6" y2="428.5" stroke="#333" stroke-width="1.45" />
<text x="191.8" y="420.5" font-size="7.7" fill="#111" stroke="#111" stroke-width="0.18"><tspan font-style="italic">P</tspan> &lt; 0.0001</text>
<line x1="162.2" y1="472.3" x2="192.9" y2="472.3" stroke="#333" stroke-width="1.45" />
<text x="159" y="464.8" font-size="7.7" fill="#111" stroke="#111" stroke-width="0.18"><tspan font-style="italic">P</tspan> = 0.0004</text>
<text transform="translate(21.6,567.0) rotate(-36)" font-size="9.8" fill="#3c3cb4" stroke="#3c3cb4" stroke-width="0.2" text-anchor="start">CD25<tspan font-size="5.5" dy="-3.2" stroke-width="0.1">–</tspan><tspan dy="3.2">Foxp3</tspan><tspan font-size="5.5" dy="-3.2" stroke-width="0.1">–</tspan></text>
<text transform="translate(48.8,576.8) rotate(-36)" font-size="9.8" fill="#2f9a62" stroke="#2f9a62" stroke-width="0.2" text-anchor="start">CD25<tspan font-size="6.6" dy="-3.2" stroke-width="0.1">med</tspan><tspan dy="3.2">Foxp3</tspan><tspan font-size="5.5" dy="-3.2" stroke-width="0.1">–</tspan></text>
<text transform="translate(65.2,587.8) rotate(-36)" font-size="9.8" fill="#d02a3a" stroke="#d02a3a" stroke-width="0.2" text-anchor="start">CD25<tspan font-size="6.6" dy="-3.2" stroke-width="0.1">hi or med</tspan><tspan dy="3.2">Foxp3</tspan><tspan font-size="5.5" dy="-3.2" stroke-width="0.1">+</tspan></text>
<text transform="translate(118.8,568.0) rotate(-36)" font-size="9.8" fill="#3c3cb4" stroke="#3c3cb4" stroke-width="0.2" text-anchor="start">CD25<tspan font-size="5.5" dy="-3.2" stroke-width="0.1">–</tspan><tspan dy="3.2">Foxp3</tspan><tspan font-size="5.5" dy="-3.2" stroke-width="0.1">–</tspan></text>
<text transform="translate(140.2,575.6) rotate(-36)" font-size="9.8" fill="#2f9a62" stroke="#2f9a62" stroke-width="0.2" text-anchor="start">CD25<tspan font-size="6.6" dy="-3.2" stroke-width="0.1">med</tspan><tspan dy="3.2">Foxp3</tspan><tspan font-size="5.5" dy="-3.2" stroke-width="0.1">–</tspan></text>
<text transform="translate(157.6,588.0) rotate(-36)" font-size="9.8" fill="#d02a3a" stroke="#d02a3a" stroke-width="0.2" text-anchor="start">CD25<tspan font-size="6.6" dy="-3.2" stroke-width="0.1">hi or med</tspan><tspan dy="3.2">Foxp3</tspan><tspan font-size="5.5" dy="-3.2" stroke-width="0.1">+</tspan></text>
<line x1="23.7" y1="594.6" x2="92" y2="594.6" stroke="#111" stroke-width="1.3" />
<line x1="117.3" y1="594.9" x2="183.6" y2="594.9" stroke="#111" stroke-width="1.3" />
<text x="55.2" y="608.6" font-size="10.3" fill="#111" text-anchor="middle" font-weight="normal" stroke="#111" stroke-width="0.18" >WT</text>
<text x="150.7" y="608.6" font-size="10.3" fill="#111" text-anchor="middle" font-weight="normal" stroke="#111" stroke-width="0.18" >TB</text>
<text x="281.6" y="407.6" font-size="14.2" fill="#111" text-anchor="start" font-weight="bold" >D</text>
<line x1="339.3" y1="410.55000000000007" x2="339.3" y2="523.7" stroke="#111" stroke-width="1.1" />
<line x1="339.3" y1="523.7" x2="510.5" y2="523.7" stroke="#111" stroke-width="1.1" />
<line x1="336.3" y1="523.7" x2="339.3" y2="523.7" stroke="#111" stroke-width="1.0" />
<text x="332.9" y="525.7" font-size="9.6" fill="#111" text-anchor="end" font-weight="normal" stroke="#111" stroke-width="0.18" >0</text>
<line x1="336.3" y1="501.1700000000001" x2="339.3" y2="501.1700000000001" stroke="#111" stroke-width="1.0" />
<text x="332.9" y="503.86" font-size="9.6" fill="#111" text-anchor="end" font-weight="normal" stroke="#111" stroke-width="0.18" >20</text>
<line x1="336.3" y1="478.64000000000004" x2="339.3" y2="478.64000000000004" stroke="#111" stroke-width="1.0" />
<text x="332.9" y="482.02000000000004" font-size="9.6" fill="#111" text-anchor="end" font-weight="normal" stroke="#111" stroke-width="0.18" >40</text>
<line x1="336.3" y1="456.11" x2="339.3" y2="456.11" stroke="#111" stroke-width="1.0" />
<text x="332.9" y="460.18000000000006" font-size="9.6" fill="#111" text-anchor="end" font-weight="normal" stroke="#111" stroke-width="0.18" >60</text>
<line x1="336.3" y1="433.58000000000004" x2="339.3" y2="433.58000000000004" stroke="#111" stroke-width="1.0" />
<text x="332.9" y="438.34000000000003" font-size="9.6" fill="#111" text-anchor="end" font-weight="normal" stroke="#111" stroke-width="0.18" >80</text>
<line x1="336.3" y1="411.05000000000007" x2="339.3" y2="411.05000000000007" stroke="#111" stroke-width="1.0" />
<text x="332.9" y="416.50000000000006" font-size="9.6" fill="#111" text-anchor="end" font-weight="normal" stroke="#111" stroke-width="0.18" >100</text>
<line x1="365.8" y1="523.7" x2="365.8" y2="526.5" stroke="#111" stroke-width="1.0" />
<text x="365.8" y="543.5" font-size="10.2" fill="#111" text-anchor="middle" font-weight="normal" stroke="#111" stroke-width="0.18" >2:1</text>
<line x1="405.1" y1="523.7" x2="405.1" y2="526.5" stroke="#111" stroke-width="1.0" />
<text x="405.1" y="543.5" font-size="10.2" fill="#111" text-anchor="middle" font-weight="normal" stroke="#111" stroke-width="0.18" >1:1</text>
<line x1="444.5" y1="523.7" x2="444.5" y2="526.5" stroke="#111" stroke-width="1.0" />
<text x="444.5" y="543.5" font-size="10.2" fill="#111" text-anchor="middle" font-weight="normal" stroke="#111" stroke-width="0.18" >1:2</text>
<line x1="483.9" y1="523.7" x2="483.9" y2="526.5" stroke="#111" stroke-width="1.0" />
<text x="483.9" y="543.5" font-size="10.2" fill="#111" text-anchor="middle" font-weight="normal" stroke="#111" stroke-width="0.18" >1:4</text>
<text transform="translate(306.2,510.3) rotate(-90)" font-size="9.7" fill="#111" stroke="#111" stroke-width="0.18">CD8 % Suppression</text>
<text x="389.3" y="568.7" font-size="10.0" fill="#111" text-anchor="start" font-weight="normal" stroke="#111" stroke-width="0.18" >Treg/ T ratio</text>
<polyline points="365.8,437.5 405.1,478.1 444.5,501.2 483.9,516.0" fill="none" stroke="#2020b8" stroke-width="1.45" stroke-dasharray="3.3,2.2"/>
<polyline points="365.8,433.6 405.1,456.1 444.5,478.6 483.9,505.7" fill="none" stroke="#3a7a3a" stroke-width="1.45" stroke-dasharray="3.3,2.2"/>
<line x1="365.8" y1="434.7065" x2="365.8" y2="440.33900000000006" stroke="#1a1ad0" stroke-width="1.0" />
<line x1="363.2" y1="434.7065" x2="368.40000000000003" y2="434.7065" stroke="#1a1ad0" stroke-width="1.0" />
<line x1="363.2" y1="440.33900000000006" x2="368.40000000000003" y2="440.33900000000006" stroke="#1a1ad0" stroke-width="1.0" />
<circle cx="365.8" cy="437.5" r="2.5" fill="#1a1ad0"/>
<line x1="405.1" y1="473.90870000000007" x2="405.1" y2="482.24480000000005" stroke="#1a1ad0" stroke-width="1.0" />
<line x1="402.5" y1="473.90870000000007" x2="407.70000000000005" y2="473.90870000000007" stroke="#1a1ad0" stroke-width="1.0" />
<line x1="402.5" y1="482.24480000000005" x2="407.70000000000005" y2="482.24480000000005" stroke="#1a1ad0" stroke-width="1.0" />
<circle cx="405.1" cy="478.1" r="2.5" fill="#1a1ad0"/>
<line x1="444.5" y1="499.48025000000007" x2="444.5" y2="502.85975" stroke="#1a1ad0" stroke-width="1.0" />
<line x1="441.9" y1="499.48025000000007" x2="447.1" y2="499.48025000000007" stroke="#1a1ad0" stroke-width="1.0" />
<line x1="441.9" y1="502.85975" x2="447.1" y2="502.85975" stroke="#1a1ad0" stroke-width="1.0" />
<circle cx="444.5" cy="501.2" r="2.5" fill="#1a1ad0"/>
<line x1="483.9" y1="514.6880000000001" x2="483.9" y2="517.3916" stroke="#1a1ad0" stroke-width="1.0" />
<line x1="481.29999999999995" y1="514.6880000000001" x2="486.5" y2="514.6880000000001" stroke="#1a1ad0" stroke-width="1.0" />
<line x1="481.29999999999995" y1="517.3916" x2="486.5" y2="517.3916" stroke="#1a1ad0" stroke-width="1.0" />
<circle cx="483.9" cy="516.0" r="2.5" fill="#1a1ad0"/>
<line x1="365.8" y1="426.14510000000007" x2="365.8" y2="441.0149" stroke="#1e7a1e" stroke-width="1.0" />
<line x1="363.2" y1="426.14510000000007" x2="368.40000000000003" y2="426.14510000000007" stroke="#1e7a1e" stroke-width="1.0" />
<line x1="363.2" y1="441.0149" x2="368.40000000000003" y2="441.0149" stroke="#1e7a1e" stroke-width="1.0" />
<rect x="363.5" y="431.1" width="4.6" height="5" fill="#1e7a1e"/>
<line x1="405.1" y1="448.90040000000005" x2="405.1" y2="463.31960000000004" stroke="#1e7a1e" stroke-width="1.0" />
<line x1="402.5" y1="448.90040000000005" x2="407.70000000000005" y2="448.90040000000005" stroke="#1e7a1e" stroke-width="1.0" />
<line x1="402.5" y1="463.31960000000004" x2="407.70000000000005" y2="463.31960000000004" stroke="#1e7a1e" stroke-width="1.0" />
<rect x="402.8" y="453.6" width="4.6" height="5" fill="#1e7a1e"/>
<line x1="444.5" y1="471.4304" x2="444.5" y2="485.84960000000007" stroke="#1e7a1e" stroke-width="1.0" />
<line x1="441.9" y1="471.4304" x2="447.1" y2="471.4304" stroke="#1e7a1e" stroke-width="1.0" />
<line x1="441.9" y1="485.84960000000007" x2="447.1" y2="485.84960000000007" stroke="#1e7a1e" stroke-width="1.0" />
<rect x="442.2" y="476.1" width="4.6" height="5" fill="#1e7a1e"/>
<line x1="483.9" y1="501.6206" x2="483.9" y2="509.73140000000006" stroke="#1e7a1e" stroke-width="1.0" />
<line x1="481.29999999999995" y1="501.6206" x2="486.5" y2="501.6206" stroke="#1e7a1e" stroke-width="1.0" />
<line x1="481.29999999999995" y1="509.73140000000006" x2="486.5" y2="509.73140000000006" stroke="#1e7a1e" stroke-width="1.0" />
<rect x="481.59999999999997" y="503.2" width="4.6" height="5" fill="#1e7a1e"/>
<text x="392.5" y="443" font-size="7.6" fill="#111" stroke="#111" stroke-width="0.18"><tspan font-style="italic">P</tspan> &lt; 0.0001</text>
<text x="429.5" y="467.5" font-size="7.6" fill="#111" stroke="#111" stroke-width="0.18"><tspan font-style="italic">P</tspan> &lt; 0.0001</text>
<text x="473.7" y="494.3" font-size="7.6" fill="#111" stroke="#111" stroke-width="0.18"><tspan font-style="italic">P</tspan> = 0.0150</text>
<line x1="474.2" y1="410" x2="488.5" y2="410" stroke="#2020b8" stroke-width="1.45" stroke-dasharray="3.3,2.2"/>
<circle cx="481.3" cy="410" r="2.4" fill="#1a1ad0"/>
<text x="491.3" y="413.9" font-size="11" fill="#111" text-anchor="start" font-weight="normal" stroke="#111" stroke-width="0.18" >WT</text>
<line x1="474.2" y1="428" x2="488.5" y2="428" stroke="#3a7a3a" stroke-width="1.45" stroke-dasharray="3.3,2.2"/>
<rect x="479" y="425.6" width="4.6" height="4.8" fill="#1e7a1e"/>
<text x="491.8" y="431.6" font-size="11" fill="#111" text-anchor="start" font-weight="normal" stroke="#111" stroke-width="0.18" >TB</text>
</svg></body></html>
